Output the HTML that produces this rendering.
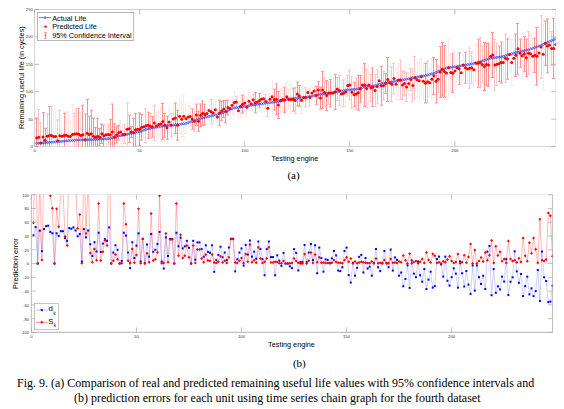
<!DOCTYPE html>
<html><head><meta charset="utf-8"><style>
html,body{margin:0;padding:0;background:#fff;width:564px;height:409px;overflow:hidden}
svg{display:block}
text{font-family:"Liberation Sans",sans-serif}
</style></head><body>
<svg width="564" height="409" viewBox="0 0 564 409">
<defs>
<clipPath id="ct"><rect x="34.6" y="9.5" width="521.1999999999999" height="137.0"/></clipPath>
<clipPath id="cb"><rect x="31.4" y="194.7" width="521.1" height="137.7"/></clipPath>
</defs>

<path d="M34.6 9.5H555.8" stroke="#cfcfcf" stroke-width="1"/><path d="M34.6 9.5V146.5H555.8" stroke="#d4d4d4" stroke-width="1" fill="none"/><path d="M555.8 9.5V146.5" stroke="#ececec" stroke-width="1"/>
<text x="33" y="148.00" font-size="4.3" text-anchor="end" fill="#333">0</text>
<text x="33" y="120.60" font-size="4.3" text-anchor="end" fill="#333">50</text>
<text x="33" y="93.20" font-size="4.3" text-anchor="end" fill="#333">100</text>
<text x="33" y="65.80" font-size="4.3" text-anchor="end" fill="#333">150</text>
<text x="33" y="38.40" font-size="4.3" text-anchor="end" fill="#333">200</text>
<text x="33" y="11.00" font-size="4.3" text-anchor="end" fill="#333">250</text>
<text x="34.60" y="152" font-size="4.3" text-anchor="middle" fill="#333">0</text>
<text x="139.68" y="152" font-size="4.3" text-anchor="middle" fill="#333">50</text>
<text x="244.76" y="152" font-size="4.3" text-anchor="middle" fill="#333">100</text>
<text x="349.84" y="152" font-size="4.3" text-anchor="middle" fill="#333">150</text>
<text x="454.92" y="152" font-size="4.3" text-anchor="middle" fill="#333">200</text>
<text x="295" y="161" font-size="7.25" text-anchor="middle" fill="#000">Testing engine</text>
<text transform="translate(24.3 77.6) rotate(-90)" font-size="7.3" text-anchor="middle" fill="#000">Remaining useful life (in cycles)</text>
<g clip-path="url(#ct)"><path d="M36.50 118.00V157.90M35.00 118.00h3M35.00 157.90h3M43.50 112.58V161.35M42.00 112.58h3M42.00 161.35h3M45.50 128.25V152.25M44.00 128.25h3M44.00 152.25h3M49.50 106.39V164.80M48.00 106.39h3M48.00 164.80h3M64.50 113.24V157.95M63.00 113.24h3M63.00 157.95h3M78.50 108.69V159.76M77.00 108.69h3M77.00 159.76h3M82.50 105.29V164.15M81.00 105.29h3M81.00 164.15h3M85.50 113.95V165.35M84.00 113.95h3M84.00 165.35h3M87.50 99.54V166.72M86.00 99.54h3M86.00 166.72h3M89.50 116.09V152.91M88.00 116.09h3M88.00 152.91h3M91.50 110.22V157.35M90.00 110.22h3M90.00 157.35h3M93.50 118.00V154.28M92.00 118.00h3M92.00 154.28h3M95.50 127.32V147.71M94.00 127.32h3M94.00 147.71h3M97.50 118.28V154.01M96.00 118.28h3M96.00 154.01h3M99.50 128.64V145.84M98.00 128.64h3M98.00 145.84h3M101.50 124.14V143.43M100.00 124.14h3M100.00 143.43h3M103.50 125.13V146.61M102.00 125.13h3M102.00 146.61h3M110.50 119.37V150.17M109.00 119.37h3M109.00 150.17h3M112.50 104.14V160.04M111.00 104.14h3M111.00 160.04h3M114.50 123.89V150.37M113.00 123.89h3M113.00 150.37h3M116.50 126.83V143.05M115.00 126.83h3M115.00 143.05h3M118.50 125.35V140.03M117.00 125.35h3M117.00 140.03h3M129.50 115.15V142.34M128.00 115.15h3M128.00 142.34h3M131.50 126.39V137.57M130.00 126.39h3M130.00 137.57h3M133.50 118.34V147.04M132.00 118.34h3M132.00 147.04h3M135.50 113.24V146.34M134.00 113.24h3M134.00 146.34h3M139.50 112.96V145.73M138.00 112.96h3M138.00 145.73h3M141.50 114.44V140.09M140.00 114.44h3M140.00 140.09h3M148.50 112.25V138.44M147.00 112.25h3M147.00 138.44h3M152.50 116.52V137.13M151.00 116.52h3M151.00 137.13h3M162.50 103.48V139.65M161.00 103.48h3M161.00 139.65h3M164.50 113.35V137.13M163.00 113.35h3M163.00 137.13h3M167.50 116.17V139.13M166.00 116.17h3M166.00 139.13h3M175.50 102.99V133.24M174.00 102.99h3M174.00 133.24h3M177.50 110.26V140.22M176.00 110.26h3M176.00 140.22h3M192.50 108.91V129.29M191.00 108.91h3M191.00 129.29h3M196.50 104.14V125.62M195.00 104.14h3M195.00 125.62h3M198.50 111.08V131.17M197.00 111.08h3M197.00 131.17h3M200.50 103.98V126.77M199.00 103.98h3M199.00 126.77h3M202.50 100.96V125.62M201.00 100.96h3M201.00 125.62h3M204.50 104.25V124.86M203.00 104.25h3M203.00 124.86h3M219.50 100.16V125.77M218.00 100.16h3M218.00 125.77h3M221.50 101.52V120.24M220.00 101.52h3M220.00 120.24h3M223.50 100.30V117.63M222.00 100.30h3M222.00 117.63h3M225.50 100.47V122.72M224.00 100.47h3M224.00 122.72h3M227.50 100.27V114.91M226.00 100.27h3M226.00 114.91h3M242.50 95.14V113.14M241.00 95.14h3M241.00 113.14h3M255.50 92.52V112.80M254.00 92.52h3M254.00 112.80h3M259.50 93.24V107.70M258.00 93.24h3M258.00 107.70h3M274.50 89.15V110.03M273.00 89.15h3M273.00 110.03h3M276.50 83.97V114.77M275.00 83.97h3M275.00 114.77h3M278.50 91.52V118.62M277.00 91.52h3M277.00 118.62h3M284.50 87.15V112.69M283.00 87.15h3M283.00 112.69h3M293.50 88.12V111.06M292.00 88.12h3M292.00 111.06h3M297.50 82.16V105.95M296.00 82.16h3M296.00 105.95h3M299.50 85.58V106.26M298.00 85.58h3M298.00 106.26h3M316.50 86.29V104.78M315.00 86.29h3M315.00 104.78h3M318.50 81.78V98.22M317.00 81.78h3M317.00 98.22h3M320.50 87.02V108.88M319.00 87.02h3M319.00 108.88h3M322.50 71.64V108.36M321.00 71.64h3M321.00 108.36h3M326.50 80.60V110.47M325.00 80.60h3M325.00 110.47h3M330.50 79.39V106.86M329.00 79.39h3M329.00 106.86h3M335.50 74.38V109.35M334.00 74.38h3M334.00 109.35h3M354.50 82.58V106.74M353.00 82.58h3M353.00 106.74h3M358.50 75.61V110.09M357.00 75.61h3M357.00 110.09h3M360.50 75.48V102.76M359.00 75.48h3M359.00 102.76h3M364.50 63.42V106.50M363.00 63.42h3M363.00 106.50h3M372.50 68.03V106.61M371.00 68.03h3M371.00 106.61h3M381.50 66.33V105.24M380.00 66.33h3M380.00 105.24h3M385.50 73.67V93.29M384.00 73.67h3M384.00 93.29h3M387.50 57.45V101.62M386.00 57.45h3M386.00 101.62h3M425.50 63.31V103.00M424.00 63.31h3M424.00 103.00h3M433.50 57.29V94.44M432.00 57.29h3M432.00 94.44h3M436.50 59.50V102.86M435.00 59.50h3M435.00 102.86h3M440.50 46.49V97.34M439.00 46.49h3M439.00 97.34h3M442.50 42.57V96.12M441.00 42.57h3M441.00 96.12h3M444.50 45.50V97.34M443.00 45.50h3M443.00 97.34h3M452.50 53.78V92.58M451.00 53.78h3M451.00 92.58h3M459.50 52.85V84.52M458.00 52.85h3M458.00 84.52h3M465.50 52.18V83.33M464.00 52.18h3M464.00 83.33h3M478.50 39.11V87.30M477.00 39.11h3M477.00 87.30h3M484.50 42.54V90.44M483.00 42.54h3M483.00 90.44h3M486.50 43.84V85.20M485.00 43.84h3M485.00 85.20h3M488.50 43.19V86.62M487.00 43.19h3M487.00 86.62h3M492.50 32.52V77.45M491.00 32.52h3M491.00 77.45h3M499.50 46.12V81.60M498.00 46.12h3M498.00 81.60h3M501.50 42.05V82.93M500.00 42.05h3M500.00 82.93h3M507.50 38.93V79.26M506.00 38.93h3M506.00 79.26h3M515.50 33.97V76.33M514.00 33.97h3M514.00 76.33h3M517.50 23.47V74.22M516.00 23.47h3M516.00 74.22h3M520.50 39.15V67.20M519.00 39.15h3M519.00 67.20h3M524.50 36.34V71.21M523.00 36.34h3M523.00 71.21h3M526.50 39.15V76.52M525.00 39.15h3M525.00 76.52h3M534.50 38.22V72.41M533.00 38.22h3M533.00 72.41h3M536.50 27.49V85.11M535.00 27.49h3M535.00 85.11h3M545.50 20.95V65.34M544.00 20.95h3M544.00 65.34h3M547.50 18.87V72.90M546.00 18.87h3M546.00 72.90h3M553.50 18.27V78.55M552.00 18.27h3M552.00 78.55h3" stroke="#ff9090" stroke-width="1" fill="none"/>
<path d="M38.50 109.51V164.97M37.00 109.51h3M37.00 164.97h3M40.50 122.75V163.13M39.00 122.75h3M39.00 163.13h3M47.50 114.17V158.12M46.00 114.17h3M46.00 158.12h3M51.50 106.39V164.80M50.00 106.39h3M50.00 164.80h3M57.50 119.93V161.34M56.00 119.93h3M56.00 161.34h3M59.50 110.22V161.52M58.00 110.22h3M58.00 161.52h3M74.50 113.24V154.77M73.00 113.24h3M73.00 154.77h3M76.50 108.41V159.16M75.00 108.41h3M75.00 159.16h3M108.50 124.85V144.14M107.00 124.85h3M107.00 144.14h3M124.50 124.76V143.58M123.00 124.76h3M123.00 143.58h3M127.50 102.93V155.76M126.00 102.93h3M126.00 155.76h3M145.50 108.58V142.99M144.00 108.58h3M144.00 142.99h3M150.50 113.67V138.33M149.00 113.67h3M149.00 138.33h3M154.50 105.40V140.36M153.00 105.40h3M153.00 140.36h3M171.50 113.43V137.05M170.00 113.43h3M170.00 137.05h3M194.50 111.76V131.48M193.00 111.76h3M193.00 131.48h3M211.50 99.37V123.92M210.00 99.37h3M210.00 123.92h3M236.50 96.19V107.92M235.00 96.19h3M235.00 107.92h3M253.50 94.11V105.18M252.00 94.11h3M252.00 105.18h3M265.50 94.67V108.13M264.00 94.67h3M264.00 108.13h3M267.50 100.16V116.56M266.00 100.16h3M266.00 116.56h3M295.50 87.41V113.53M294.00 87.41h3M294.00 113.53h3M305.50 87.69V107.11M304.00 87.69h3M304.00 107.11h3M309.50 89.04V105.76M308.00 89.04h3M308.00 105.76h3M324.50 77.95V106.87M323.00 77.95h3M323.00 106.87h3M328.50 81.78V104.47M327.00 81.78h3M327.00 104.47h3M337.50 77.68V100.57M336.00 77.68h3M336.00 100.57h3M339.50 75.26V105.84M338.00 75.26h3M338.00 105.84h3M343.50 79.97V106.72M342.00 79.97h3M342.00 106.72h3M347.50 74.99V96.03M346.00 74.99h3M346.00 96.03h3M349.50 69.84V100.08M348.00 69.84h3M348.00 100.08h3M351.50 76.30V108.19M350.00 76.30h3M350.00 108.19h3M356.50 78.16V109.62M355.00 78.16h3M355.00 109.62h3M366.50 69.63V107.52M365.00 69.63h3M365.00 107.52h3M370.50 74.44V101.29M369.00 74.44h3M369.00 101.29h3M375.50 74.42V106.46M374.00 74.42h3M374.00 106.46h3M377.50 69.60V103.17M376.00 69.60h3M376.00 103.17h3M383.50 71.49V100.07M382.00 71.49h3M382.00 100.07h3M391.50 66.71V101.56M390.00 66.71h3M390.00 101.56h3M393.50 63.37V93.84M392.00 63.37h3M392.00 93.84h3M400.50 60.24V99.59M399.00 60.24h3M399.00 99.59h3M402.50 70.84V99.30M401.00 70.84h3M401.00 99.30h3M404.50 71.31V95.86M403.00 71.31h3M403.00 95.86h3M406.50 72.57V101.30M405.00 72.57h3M405.00 101.30h3M410.50 68.52V90.55M409.00 68.52h3M409.00 90.55h3M412.50 69.08V101.82M411.00 69.08h3M411.00 101.82h3M414.50 56.52V98.93M413.00 56.52h3M413.00 98.93h3M427.50 60.79V102.88M426.00 60.79h3M426.00 102.88h3M438.50 66.05V92.36M437.00 66.05h3M437.00 92.36h3M469.50 47.97V88.30M468.00 47.97h3M468.00 88.30h3M471.50 51.78V83.72M470.00 51.78h3M470.00 83.72h3M480.50 37.50V87.59M479.00 37.50h3M479.00 87.59h3M482.50 45.86V83.18M481.00 45.86h3M481.00 83.18h3M494.50 39.57V90.24M493.00 39.57h3M493.00 90.24h3M496.50 43.04V85.56M495.00 43.04h3M495.00 85.56h3M505.50 34.21V82.44M504.00 34.21h3M504.00 82.44h3M528.50 31.58V74.77M527.00 31.58h3M527.00 74.77h3M541.50 15.80V78.28M540.00 15.80h3M540.00 78.28h3M551.50 31.58V65.23M550.00 31.58h3M550.00 65.23h3" stroke="#ffc4c4" stroke-width="1" fill="none"/>
<path d="M53.50 109.51V163.54M52.00 109.51h3M52.00 163.54h3M55.50 111.21V161.84M54.00 111.21h3M54.00 161.84h3M61.50 115.26V157.02M60.00 115.26h3M60.00 157.02h3M66.50 112.25V158.06M65.00 112.25h3M65.00 158.06h3M68.50 111.21V161.08M67.00 111.21h3M67.00 161.08h3M70.50 121.40V151.65M69.00 121.40h3M69.00 151.65h3M72.50 104.36V164.64M71.00 104.36h3M71.00 164.64h3M80.50 112.52V158.67M79.00 112.52h3M79.00 158.67h3M106.50 123.61V145.94M105.00 123.61h3M105.00 145.94h3M120.50 120.25V143.71M119.00 120.25h3M119.00 143.71h3M122.50 123.52V145.70M121.00 123.52h3M121.00 145.70h3M137.50 118.06V140.64M136.00 118.06h3M136.00 140.64h3M143.50 116.23V137.31M142.00 116.23h3M142.00 137.31h3M156.50 112.58V139.43M155.00 112.58h3M155.00 139.43h3M158.50 111.04V137.79M157.00 111.04h3M157.00 137.79h3M160.50 107.04V141.13M159.00 107.04h3M159.00 141.13h3M169.50 111.43V132.69M168.00 111.43h3M168.00 132.69h3M173.50 102.22V135.65M172.00 102.22h3M172.00 135.65h3M179.50 99.04V133.35M178.00 99.04h3M178.00 133.35h3M181.50 101.64V137.10M180.00 101.64h3M180.00 137.10h3M183.50 95.10V137.29M182.00 95.10h3M182.00 137.29h3M185.50 103.98V133.57M184.00 103.98h3M184.00 133.57h3M188.50 105.64V128.17M187.00 105.64h3M187.00 128.17h3M190.50 106.55V126.39M189.00 106.55h3M189.00 126.39h3M206.50 108.14V119.10M205.00 108.14h3M205.00 119.10h3M209.50 101.15V119.95M208.00 101.15h3M208.00 119.95h3M213.50 101.80V124.13M212.00 101.80h3M212.00 124.13h3M215.50 99.37V120.20M214.00 99.37h3M214.00 120.20h3M217.50 108.22V125.60M216.00 108.22h3M216.00 125.60h3M230.50 98.06V118.77M229.00 98.06h3M229.00 118.77h3M232.50 96.39V113.97M231.00 96.39h3M231.00 113.97h3M234.50 91.44V113.55M233.00 91.44h3M233.00 113.55h3M238.50 103.04V118.50M237.00 103.04h3M237.00 118.50h3M240.50 94.11V118.55M239.00 94.11h3M239.00 118.55h3M244.50 94.11V111.65M243.00 94.11h3M243.00 111.65h3M246.50 97.85V116.68M245.00 97.85h3M245.00 116.68h3M248.50 92.52V109.95M247.00 92.52h3M247.00 109.95h3M251.50 96.49V110.81M250.00 96.49h3M250.00 110.81h3M257.50 96.19V107.92M256.00 96.19h3M256.00 107.92h3M261.50 92.52V105.24M260.00 92.52h3M260.00 105.24h3M263.50 90.44V107.21M262.00 90.44h3M262.00 107.21h3M269.50 93.12V105.29M268.00 93.12h3M268.00 105.29h3M272.50 80.30V113.40M271.00 80.30h3M271.00 113.40h3M280.50 88.96V111.98M279.00 88.96h3M279.00 111.98h3M282.50 87.16V112.02M281.00 87.16h3M281.00 112.02h3M286.50 82.16V111.54M285.00 82.16h3M285.00 111.54h3M288.50 89.51V109.67M287.00 89.51h3M287.00 109.67h3M290.50 84.90V114.28M289.00 84.90h3M289.00 114.28h3M301.50 87.04V113.24M300.00 87.04h3M300.00 113.24h3M303.50 88.95V105.85M302.00 88.95h3M302.00 105.85h3M307.50 88.74V96.08M306.00 88.74h3M306.00 96.08h3M312.50 87.88V98.37M311.00 87.88h3M311.00 98.37h3M314.50 84.52V97.34M313.00 84.52h3M313.00 97.34h3M333.50 75.61V110.64M332.00 75.61h3M332.00 110.64h3M341.50 80.90V107.32M340.00 80.90h3M340.00 107.32h3M345.50 78.16V105.67M344.00 78.16h3M344.00 105.67h3M362.50 67.09V102.82M361.00 67.09h3M361.00 102.82h3M368.50 65.23V104.68M367.00 65.23h3M367.00 104.68h3M379.50 69.45V92.25M378.00 69.45h3M378.00 92.25h3M389.50 65.24V100.40M388.00 65.24h3M388.00 100.40h3M396.50 68.90V99.37M395.00 68.90h3M395.00 99.37h3M398.50 63.67V96.17M397.00 63.67h3M397.00 96.17h3M408.50 72.57V94.60M407.00 72.57h3M407.00 94.60h3M417.50 62.77V96.85M416.00 62.77h3M416.00 96.85h3M419.50 59.80V101.79M418.00 59.80h3M418.00 101.79h3M421.50 57.99V95.71M420.00 57.99h3M420.00 95.71h3M423.50 62.16V100.19M422.00 62.16h3M422.00 100.19h3M429.50 68.76V96.66M428.00 68.76h3M428.00 96.66h3M431.50 58.49V99.93M430.00 58.49h3M430.00 99.93h3M446.50 46.79V99.02M445.00 46.79h3M445.00 99.02h3M448.50 38.65V96.19M447.00 38.65h3M447.00 96.19h3M450.50 54.08V90.96M449.00 54.08h3M449.00 90.96h3M454.50 51.53V90.23M453.00 51.53h3M453.00 90.23h3M457.50 54.27V81.23M456.00 54.27h3M456.00 81.23h3M461.50 60.27V84.99M460.00 60.27h3M460.00 84.99h3M463.50 49.34V80.47M462.00 49.34h3M462.00 80.47h3M467.50 54.60V83.65M466.00 54.60h3M466.00 83.65h3M473.50 53.16V86.29M472.00 53.16h3M472.00 86.29h3M475.50 44.52V82.11M474.00 44.52h3M474.00 82.11h3M490.50 31.69V80.79M489.00 31.69h3M489.00 80.79h3M503.50 42.74V82.24M502.00 42.74h3M502.00 82.24h3M509.50 37.23V71.53M508.00 37.23h3M508.00 71.53h3M511.50 39.58V85.41M510.00 39.58h3M510.00 85.41h3M513.50 39.15V77.51M512.00 39.15h3M512.00 77.51h3M522.50 33.24V78.27M521.00 33.24h3M521.00 78.27h3M530.50 34.14V73.31M529.00 34.14h3M529.00 73.31h3M532.50 37.24V75.35M531.00 37.24h3M531.00 75.35h3M538.50 26.71V79.21M537.00 26.71h3M537.00 79.21h3M543.50 18.87V89.78M542.00 18.87h3M542.00 89.78h3M549.50 22.43V67.81M548.00 22.43h3M548.00 67.81h3M555.50 23.45V65.59M554.00 23.45h3M554.00 65.59h3" stroke="#ffe8e8" stroke-width="1" fill="none"/>
<polyline points="36.70,143.38 38.80,143.21 40.90,143.04 43.01,142.86 45.11,142.69 47.21,142.52 49.31,142.35 51.41,142.18 53.51,142.01 55.62,141.84 57.72,141.67 59.82,141.49 61.92,141.31 64.02,141.14 66.12,140.96 68.23,140.78 70.33,140.61 72.43,140.43 74.53,140.25 76.63,140.17 78.73,140.09 80.84,140.01 82.94,139.93 85.04,139.85 87.14,139.77 89.24,139.69 91.34,139.62 93.45,139.54 95.55,139.46 97.65,139.38 99.75,139.24 101.85,139.10 103.95,138.97 106.05,138.83 108.16,138.69 110.26,138.55 112.36,137.94 114.46,137.32 116.56,136.70 118.66,136.09 120.77,135.70 122.87,135.32 124.97,134.94 127.07,134.40 129.17,133.87 131.27,133.33 133.38,132.80 135.48,132.43 137.58,132.07 139.68,131.70 141.78,130.96 143.88,130.22 145.99,129.48 148.09,128.74 150.19,128.37 152.29,128.00 154.39,127.64 156.49,127.27 158.60,126.90 160.70,126.53 162.80,126.16 164.90,125.79 167.00,125.58 169.10,125.38 171.20,125.17 173.31,124.97 175.41,124.77 177.51,124.56 179.61,124.36 181.71,124.07 183.81,123.78 185.92,123.48 188.02,122.76 190.12,122.04 192.22,121.32 194.32,120.60 196.42,119.88 198.53,119.16 200.63,118.44 202.73,117.94 204.83,117.44 206.93,116.94 209.03,116.44 211.14,115.94 213.24,115.44 215.34,114.94 217.44,114.44 219.54,113.74 221.64,113.04 223.75,112.35 225.85,111.65 227.95,110.69 230.05,109.73 232.15,108.77 234.25,107.81 236.35,107.70 238.46,107.59 240.56,107.15 242.66,106.72 244.76,106.28 246.86,105.97 248.96,105.66 251.07,105.36 253.17,105.05 255.27,104.74 257.37,104.41 259.47,104.08 261.57,103.76 263.68,103.48 265.78,103.21 267.88,102.93 269.98,102.66 272.08,102.39 274.18,102.11 276.29,101.84 278.39,101.56 280.49,101.29 282.59,100.67 284.69,100.06 286.79,99.44 288.90,98.82 291.00,98.66 293.10,98.50 295.20,98.33 297.30,98.17 299.40,98.00 301.50,97.73 303.61,97.45 305.71,97.18 307.81,96.91 309.91,96.47 312.01,96.03 314.11,95.59 316.22,95.15 318.32,94.71 320.42,94.44 322.52,94.17 324.62,93.89 326.72,93.62 328.83,93.34 330.93,93.00 333.03,92.66 335.13,92.32 337.23,91.97 339.33,91.49 341.44,91.02 343.54,90.54 345.64,90.06 347.74,89.89 349.84,89.73 351.94,89.56 354.05,89.40 356.15,89.23 358.25,88.63 360.35,88.03 362.45,87.43 364.55,86.82 366.65,86.22 368.76,86.08 370.86,85.95 372.96,85.81 375.06,85.67 377.16,84.99 379.26,84.30 381.37,83.62 383.47,82.93 385.57,82.66 387.67,82.38 389.77,82.11 391.87,81.84 393.98,81.56 396.08,81.29 398.18,80.88 400.28,80.47 402.38,80.06 404.48,79.64 406.59,79.16 408.69,78.69 410.79,78.21 412.89,77.73 414.99,77.37 417.09,77.01 419.20,76.66 421.30,76.30 423.40,75.94 425.50,75.59 427.60,75.01 429.70,74.44 431.80,73.86 433.91,73.29 436.01,72.43 438.11,71.57 440.21,70.71 442.31,69.85 444.41,68.99 446.52,68.14 448.62,67.80 450.72,67.46 452.82,67.12 454.92,66.78 457.02,66.45 459.13,66.11 461.23,65.74 463.33,65.38 465.43,65.01 467.53,64.65 469.63,64.28 471.74,63.92 473.84,63.37 475.94,62.82 478.04,62.27 480.14,61.72 482.24,61.03 484.35,60.34 486.45,59.65 488.55,58.96 490.65,58.27 492.75,57.97 494.85,57.67 496.95,57.37 499.06,57.07 501.16,56.77 503.26,56.46 505.36,55.77 507.46,55.08 509.56,54.38 511.67,53.79 513.77,53.20 515.87,52.61 517.97,52.02 520.07,51.59 522.17,51.15 524.28,50.71 526.38,50.27 528.48,49.83 530.58,49.09 532.68,48.35 534.78,47.61 536.89,46.87 538.99,46.13 541.09,45.39 543.19,44.44 545.29,43.49 547.39,42.53 549.50,41.58 551.60,40.63 553.70,39.72 555.80,38.82" fill="none" stroke="#6070ff" stroke-width="0.4"/>
<g fill="none" stroke="#0828ff" stroke-width="0.5"><circle cx="36.70" cy="143.38" r="1.05"/><circle cx="38.80" cy="143.21" r="1.05"/><circle cx="40.90" cy="143.04" r="1.05"/><circle cx="43.01" cy="142.86" r="1.05"/><circle cx="45.11" cy="142.69" r="1.05"/><circle cx="47.21" cy="142.52" r="1.05"/><circle cx="49.31" cy="142.35" r="1.05"/><circle cx="51.41" cy="142.18" r="1.05"/><circle cx="53.51" cy="142.01" r="1.05"/><circle cx="55.62" cy="141.84" r="1.05"/><circle cx="57.72" cy="141.67" r="1.05"/><circle cx="59.82" cy="141.49" r="1.05"/><circle cx="61.92" cy="141.31" r="1.05"/><circle cx="64.02" cy="141.14" r="1.05"/><circle cx="66.12" cy="140.96" r="1.05"/><circle cx="68.23" cy="140.78" r="1.05"/><circle cx="70.33" cy="140.61" r="1.05"/><circle cx="72.43" cy="140.43" r="1.05"/><circle cx="74.53" cy="140.25" r="1.05"/><circle cx="76.63" cy="140.17" r="1.05"/><circle cx="78.73" cy="140.09" r="1.05"/><circle cx="80.84" cy="140.01" r="1.05"/><circle cx="82.94" cy="139.93" r="1.05"/><circle cx="85.04" cy="139.85" r="1.05"/><circle cx="87.14" cy="139.77" r="1.05"/><circle cx="89.24" cy="139.69" r="1.05"/><circle cx="91.34" cy="139.62" r="1.05"/><circle cx="93.45" cy="139.54" r="1.05"/><circle cx="95.55" cy="139.46" r="1.05"/><circle cx="97.65" cy="139.38" r="1.05"/><circle cx="99.75" cy="139.24" r="1.05"/><circle cx="101.85" cy="139.10" r="1.05"/><circle cx="103.95" cy="138.97" r="1.05"/><circle cx="106.05" cy="138.83" r="1.05"/><circle cx="108.16" cy="138.69" r="1.05"/><circle cx="110.26" cy="138.55" r="1.05"/><circle cx="112.36" cy="137.94" r="1.05"/><circle cx="114.46" cy="137.32" r="1.05"/><circle cx="116.56" cy="136.70" r="1.05"/><circle cx="118.66" cy="136.09" r="1.05"/><circle cx="120.77" cy="135.70" r="1.05"/><circle cx="122.87" cy="135.32" r="1.05"/><circle cx="124.97" cy="134.94" r="1.05"/><circle cx="127.07" cy="134.40" r="1.05"/><circle cx="129.17" cy="133.87" r="1.05"/><circle cx="131.27" cy="133.33" r="1.05"/><circle cx="133.38" cy="132.80" r="1.05"/><circle cx="135.48" cy="132.43" r="1.05"/><circle cx="137.58" cy="132.07" r="1.05"/><circle cx="139.68" cy="131.70" r="1.05"/><circle cx="141.78" cy="130.96" r="1.05"/><circle cx="143.88" cy="130.22" r="1.05"/><circle cx="145.99" cy="129.48" r="1.05"/><circle cx="148.09" cy="128.74" r="1.05"/><circle cx="150.19" cy="128.37" r="1.05"/><circle cx="152.29" cy="128.00" r="1.05"/><circle cx="154.39" cy="127.64" r="1.05"/><circle cx="156.49" cy="127.27" r="1.05"/><circle cx="158.60" cy="126.90" r="1.05"/><circle cx="160.70" cy="126.53" r="1.05"/><circle cx="162.80" cy="126.16" r="1.05"/><circle cx="164.90" cy="125.79" r="1.05"/><circle cx="167.00" cy="125.58" r="1.05"/><circle cx="169.10" cy="125.38" r="1.05"/><circle cx="171.20" cy="125.17" r="1.05"/><circle cx="173.31" cy="124.97" r="1.05"/><circle cx="175.41" cy="124.77" r="1.05"/><circle cx="177.51" cy="124.56" r="1.05"/><circle cx="179.61" cy="124.36" r="1.05"/><circle cx="181.71" cy="124.07" r="1.05"/><circle cx="183.81" cy="123.78" r="1.05"/><circle cx="185.92" cy="123.48" r="1.05"/><circle cx="188.02" cy="122.76" r="1.05"/><circle cx="190.12" cy="122.04" r="1.05"/><circle cx="192.22" cy="121.32" r="1.05"/><circle cx="194.32" cy="120.60" r="1.05"/><circle cx="196.42" cy="119.88" r="1.05"/><circle cx="198.53" cy="119.16" r="1.05"/><circle cx="200.63" cy="118.44" r="1.05"/><circle cx="202.73" cy="117.94" r="1.05"/><circle cx="204.83" cy="117.44" r="1.05"/><circle cx="206.93" cy="116.94" r="1.05"/><circle cx="209.03" cy="116.44" r="1.05"/><circle cx="211.14" cy="115.94" r="1.05"/><circle cx="213.24" cy="115.44" r="1.05"/><circle cx="215.34" cy="114.94" r="1.05"/><circle cx="217.44" cy="114.44" r="1.05"/><circle cx="219.54" cy="113.74" r="1.05"/><circle cx="221.64" cy="113.04" r="1.05"/><circle cx="223.75" cy="112.35" r="1.05"/><circle cx="225.85" cy="111.65" r="1.05"/><circle cx="227.95" cy="110.69" r="1.05"/><circle cx="230.05" cy="109.73" r="1.05"/><circle cx="232.15" cy="108.77" r="1.05"/><circle cx="234.25" cy="107.81" r="1.05"/><circle cx="236.35" cy="107.70" r="1.05"/><circle cx="238.46" cy="107.59" r="1.05"/><circle cx="240.56" cy="107.15" r="1.05"/><circle cx="242.66" cy="106.72" r="1.05"/><circle cx="244.76" cy="106.28" r="1.05"/><circle cx="246.86" cy="105.97" r="1.05"/><circle cx="248.96" cy="105.66" r="1.05"/><circle cx="251.07" cy="105.36" r="1.05"/><circle cx="253.17" cy="105.05" r="1.05"/><circle cx="255.27" cy="104.74" r="1.05"/><circle cx="257.37" cy="104.41" r="1.05"/><circle cx="259.47" cy="104.08" r="1.05"/><circle cx="261.57" cy="103.76" r="1.05"/><circle cx="263.68" cy="103.48" r="1.05"/><circle cx="265.78" cy="103.21" r="1.05"/><circle cx="267.88" cy="102.93" r="1.05"/><circle cx="269.98" cy="102.66" r="1.05"/><circle cx="272.08" cy="102.39" r="1.05"/><circle cx="274.18" cy="102.11" r="1.05"/><circle cx="276.29" cy="101.84" r="1.05"/><circle cx="278.39" cy="101.56" r="1.05"/><circle cx="280.49" cy="101.29" r="1.05"/><circle cx="282.59" cy="100.67" r="1.05"/><circle cx="284.69" cy="100.06" r="1.05"/><circle cx="286.79" cy="99.44" r="1.05"/><circle cx="288.90" cy="98.82" r="1.05"/><circle cx="291.00" cy="98.66" r="1.05"/><circle cx="293.10" cy="98.50" r="1.05"/><circle cx="295.20" cy="98.33" r="1.05"/><circle cx="297.30" cy="98.17" r="1.05"/><circle cx="299.40" cy="98.00" r="1.05"/><circle cx="301.50" cy="97.73" r="1.05"/><circle cx="303.61" cy="97.45" r="1.05"/><circle cx="305.71" cy="97.18" r="1.05"/><circle cx="307.81" cy="96.91" r="1.05"/><circle cx="309.91" cy="96.47" r="1.05"/><circle cx="312.01" cy="96.03" r="1.05"/><circle cx="314.11" cy="95.59" r="1.05"/><circle cx="316.22" cy="95.15" r="1.05"/><circle cx="318.32" cy="94.71" r="1.05"/><circle cx="320.42" cy="94.44" r="1.05"/><circle cx="322.52" cy="94.17" r="1.05"/><circle cx="324.62" cy="93.89" r="1.05"/><circle cx="326.72" cy="93.62" r="1.05"/><circle cx="328.83" cy="93.34" r="1.05"/><circle cx="330.93" cy="93.00" r="1.05"/><circle cx="333.03" cy="92.66" r="1.05"/><circle cx="335.13" cy="92.32" r="1.05"/><circle cx="337.23" cy="91.97" r="1.05"/><circle cx="339.33" cy="91.49" r="1.05"/><circle cx="341.44" cy="91.02" r="1.05"/><circle cx="343.54" cy="90.54" r="1.05"/><circle cx="345.64" cy="90.06" r="1.05"/><circle cx="347.74" cy="89.89" r="1.05"/><circle cx="349.84" cy="89.73" r="1.05"/><circle cx="351.94" cy="89.56" r="1.05"/><circle cx="354.05" cy="89.40" r="1.05"/><circle cx="356.15" cy="89.23" r="1.05"/><circle cx="358.25" cy="88.63" r="1.05"/><circle cx="360.35" cy="88.03" r="1.05"/><circle cx="362.45" cy="87.43" r="1.05"/><circle cx="364.55" cy="86.82" r="1.05"/><circle cx="366.65" cy="86.22" r="1.05"/><circle cx="368.76" cy="86.08" r="1.05"/><circle cx="370.86" cy="85.95" r="1.05"/><circle cx="372.96" cy="85.81" r="1.05"/><circle cx="375.06" cy="85.67" r="1.05"/><circle cx="377.16" cy="84.99" r="1.05"/><circle cx="379.26" cy="84.30" r="1.05"/><circle cx="381.37" cy="83.62" r="1.05"/><circle cx="383.47" cy="82.93" r="1.05"/><circle cx="385.57" cy="82.66" r="1.05"/><circle cx="387.67" cy="82.38" r="1.05"/><circle cx="389.77" cy="82.11" r="1.05"/><circle cx="391.87" cy="81.84" r="1.05"/><circle cx="393.98" cy="81.56" r="1.05"/><circle cx="396.08" cy="81.29" r="1.05"/><circle cx="398.18" cy="80.88" r="1.05"/><circle cx="400.28" cy="80.47" r="1.05"/><circle cx="402.38" cy="80.06" r="1.05"/><circle cx="404.48" cy="79.64" r="1.05"/><circle cx="406.59" cy="79.16" r="1.05"/><circle cx="408.69" cy="78.69" r="1.05"/><circle cx="410.79" cy="78.21" r="1.05"/><circle cx="412.89" cy="77.73" r="1.05"/><circle cx="414.99" cy="77.37" r="1.05"/><circle cx="417.09" cy="77.01" r="1.05"/><circle cx="419.20" cy="76.66" r="1.05"/><circle cx="421.30" cy="76.30" r="1.05"/><circle cx="423.40" cy="75.94" r="1.05"/><circle cx="425.50" cy="75.59" r="1.05"/><circle cx="427.60" cy="75.01" r="1.05"/><circle cx="429.70" cy="74.44" r="1.05"/><circle cx="431.80" cy="73.86" r="1.05"/><circle cx="433.91" cy="73.29" r="1.05"/><circle cx="436.01" cy="72.43" r="1.05"/><circle cx="438.11" cy="71.57" r="1.05"/><circle cx="440.21" cy="70.71" r="1.05"/><circle cx="442.31" cy="69.85" r="1.05"/><circle cx="444.41" cy="68.99" r="1.05"/><circle cx="446.52" cy="68.14" r="1.05"/><circle cx="448.62" cy="67.80" r="1.05"/><circle cx="450.72" cy="67.46" r="1.05"/><circle cx="452.82" cy="67.12" r="1.05"/><circle cx="454.92" cy="66.78" r="1.05"/><circle cx="457.02" cy="66.45" r="1.05"/><circle cx="459.13" cy="66.11" r="1.05"/><circle cx="461.23" cy="65.74" r="1.05"/><circle cx="463.33" cy="65.38" r="1.05"/><circle cx="465.43" cy="65.01" r="1.05"/><circle cx="467.53" cy="64.65" r="1.05"/><circle cx="469.63" cy="64.28" r="1.05"/><circle cx="471.74" cy="63.92" r="1.05"/><circle cx="473.84" cy="63.37" r="1.05"/><circle cx="475.94" cy="62.82" r="1.05"/><circle cx="478.04" cy="62.27" r="1.05"/><circle cx="480.14" cy="61.72" r="1.05"/><circle cx="482.24" cy="61.03" r="1.05"/><circle cx="484.35" cy="60.34" r="1.05"/><circle cx="486.45" cy="59.65" r="1.05"/><circle cx="488.55" cy="58.96" r="1.05"/><circle cx="490.65" cy="58.27" r="1.05"/><circle cx="492.75" cy="57.97" r="1.05"/><circle cx="494.85" cy="57.67" r="1.05"/><circle cx="496.95" cy="57.37" r="1.05"/><circle cx="499.06" cy="57.07" r="1.05"/><circle cx="501.16" cy="56.77" r="1.05"/><circle cx="503.26" cy="56.46" r="1.05"/><circle cx="505.36" cy="55.77" r="1.05"/><circle cx="507.46" cy="55.08" r="1.05"/><circle cx="509.56" cy="54.38" r="1.05"/><circle cx="511.67" cy="53.79" r="1.05"/><circle cx="513.77" cy="53.20" r="1.05"/><circle cx="515.87" cy="52.61" r="1.05"/><circle cx="517.97" cy="52.02" r="1.05"/><circle cx="520.07" cy="51.59" r="1.05"/><circle cx="522.17" cy="51.15" r="1.05"/><circle cx="524.28" cy="50.71" r="1.05"/><circle cx="526.38" cy="50.27" r="1.05"/><circle cx="528.48" cy="49.83" r="1.05"/><circle cx="530.58" cy="49.09" r="1.05"/><circle cx="532.68" cy="48.35" r="1.05"/><circle cx="534.78" cy="47.61" r="1.05"/><circle cx="536.89" cy="46.87" r="1.05"/><circle cx="538.99" cy="46.13" r="1.05"/><circle cx="541.09" cy="45.39" r="1.05"/><circle cx="543.19" cy="44.44" r="1.05"/><circle cx="545.29" cy="43.49" r="1.05"/><circle cx="547.39" cy="42.53" r="1.05"/><circle cx="549.50" cy="41.58" r="1.05"/><circle cx="551.60" cy="40.63" r="1.05"/><circle cx="553.70" cy="39.72" r="1.05"/><circle cx="555.80" cy="38.82" r="1.05"/></g>
<g fill="#f00"><circle cx="36.70" cy="137.95" r="1.5"/><circle cx="38.80" cy="137.24" r="1.5"/><circle cx="40.90" cy="142.94" r="1.5"/><circle cx="43.01" cy="136.96" r="1.5"/><circle cx="45.11" cy="140.25" r="1.5"/><circle cx="47.21" cy="136.14" r="1.5"/><circle cx="49.31" cy="135.59" r="1.5"/><circle cx="51.41" cy="135.59" r="1.5"/><circle cx="53.51" cy="136.53" r="1.5"/><circle cx="55.62" cy="136.53" r="1.5"/><circle cx="57.72" cy="140.64" r="1.5"/><circle cx="59.82" cy="135.87" r="1.5"/><circle cx="61.92" cy="136.14" r="1.5"/><circle cx="64.02" cy="135.59" r="1.5"/><circle cx="66.12" cy="135.16" r="1.5"/><circle cx="68.23" cy="136.14" r="1.5"/><circle cx="70.33" cy="136.53" r="1.5"/><circle cx="72.43" cy="134.50" r="1.5"/><circle cx="74.53" cy="134.01" r="1.5"/><circle cx="76.63" cy="133.79" r="1.5"/><circle cx="78.73" cy="134.22" r="1.5"/><circle cx="80.84" cy="135.59" r="1.5"/><circle cx="82.94" cy="134.72" r="1.5"/><circle cx="85.04" cy="139.65" r="1.5"/><circle cx="87.14" cy="133.13" r="1.5"/><circle cx="89.24" cy="134.50" r="1.5"/><circle cx="91.34" cy="133.79" r="1.5"/><circle cx="93.45" cy="136.14" r="1.5"/><circle cx="95.55" cy="137.51" r="1.5"/><circle cx="97.65" cy="136.14" r="1.5"/><circle cx="99.75" cy="137.24" r="1.5"/><circle cx="101.85" cy="133.79" r="1.5"/><circle cx="103.95" cy="135.87" r="1.5"/><circle cx="106.05" cy="134.77" r="1.5"/><circle cx="108.16" cy="134.50" r="1.5"/><circle cx="110.26" cy="134.77" r="1.5"/><circle cx="112.36" cy="132.09" r="1.5"/><circle cx="114.46" cy="137.13" r="1.5"/><circle cx="116.56" cy="134.94" r="1.5"/><circle cx="118.66" cy="132.69" r="1.5"/><circle cx="120.77" cy="131.98" r="1.5"/><circle cx="122.87" cy="134.61" r="1.5"/><circle cx="124.97" cy="134.17" r="1.5"/><circle cx="127.07" cy="129.35" r="1.5"/><circle cx="129.17" cy="128.74" r="1.5"/><circle cx="131.27" cy="131.98" r="1.5"/><circle cx="133.38" cy="132.69" r="1.5"/><circle cx="135.48" cy="129.79" r="1.5"/><circle cx="137.58" cy="129.35" r="1.5"/><circle cx="139.68" cy="129.35" r="1.5"/><circle cx="141.78" cy="127.27" r="1.5"/><circle cx="143.88" cy="126.77" r="1.5"/><circle cx="145.99" cy="125.79" r="1.5"/><circle cx="148.09" cy="125.35" r="1.5"/><circle cx="150.19" cy="126.00" r="1.5"/><circle cx="152.29" cy="126.83" r="1.5"/><circle cx="154.39" cy="122.88" r="1.5"/><circle cx="156.49" cy="126.00" r="1.5"/><circle cx="158.60" cy="124.42" r="1.5"/><circle cx="160.70" cy="124.09" r="1.5"/><circle cx="162.80" cy="121.57" r="1.5"/><circle cx="164.90" cy="125.24" r="1.5"/><circle cx="167.00" cy="127.65" r="1.5"/><circle cx="169.10" cy="122.06" r="1.5"/><circle cx="171.20" cy="125.24" r="1.5"/><circle cx="173.31" cy="118.94" r="1.5"/><circle cx="175.41" cy="118.11" r="1.5"/><circle cx="177.51" cy="125.24" r="1.5"/><circle cx="179.61" cy="116.20" r="1.5"/><circle cx="181.71" cy="119.37" r="1.5"/><circle cx="183.81" cy="116.20" r="1.5"/><circle cx="185.92" cy="118.77" r="1.5"/><circle cx="188.02" cy="116.91" r="1.5"/><circle cx="190.12" cy="116.47" r="1.5"/><circle cx="192.22" cy="119.10" r="1.5"/><circle cx="194.32" cy="121.62" r="1.5"/><circle cx="196.42" cy="114.88" r="1.5"/><circle cx="198.53" cy="121.13" r="1.5"/><circle cx="200.63" cy="115.37" r="1.5"/><circle cx="202.73" cy="113.29" r="1.5"/><circle cx="204.83" cy="114.55" r="1.5"/><circle cx="206.93" cy="113.62" r="1.5"/><circle cx="209.03" cy="110.55" r="1.5"/><circle cx="211.14" cy="111.65" r="1.5"/><circle cx="213.24" cy="112.96" r="1.5"/><circle cx="215.34" cy="109.78" r="1.5"/><circle cx="217.44" cy="116.91" r="1.5"/><circle cx="219.54" cy="112.96" r="1.5"/><circle cx="221.64" cy="110.88" r="1.5"/><circle cx="223.75" cy="108.96" r="1.5"/><circle cx="225.85" cy="111.59" r="1.5"/><circle cx="227.95" cy="107.59" r="1.5"/><circle cx="230.05" cy="108.41" r="1.5"/><circle cx="232.15" cy="105.18" r="1.5"/><circle cx="234.25" cy="102.50" r="1.5"/><circle cx="236.35" cy="102.06" r="1.5"/><circle cx="238.46" cy="110.77" r="1.5"/><circle cx="240.56" cy="106.33" r="1.5"/><circle cx="242.66" cy="104.14" r="1.5"/><circle cx="244.76" cy="102.88" r="1.5"/><circle cx="246.86" cy="107.26" r="1.5"/><circle cx="248.96" cy="101.24" r="1.5"/><circle cx="251.07" cy="103.65" r="1.5"/><circle cx="253.17" cy="99.65" r="1.5"/><circle cx="255.27" cy="102.66" r="1.5"/><circle cx="257.37" cy="102.06" r="1.5"/><circle cx="259.47" cy="100.47" r="1.5"/><circle cx="261.57" cy="98.88" r="1.5"/><circle cx="263.68" cy="98.82" r="1.5"/><circle cx="265.78" cy="101.40" r="1.5"/><circle cx="267.88" cy="108.36" r="1.5"/><circle cx="269.98" cy="99.21" r="1.5"/><circle cx="272.08" cy="96.85" r="1.5"/><circle cx="274.18" cy="99.59" r="1.5"/><circle cx="276.29" cy="99.37" r="1.5"/><circle cx="278.39" cy="105.07" r="1.5"/><circle cx="280.49" cy="100.47" r="1.5"/><circle cx="282.59" cy="99.59" r="1.5"/><circle cx="284.69" cy="99.92" r="1.5"/><circle cx="286.79" cy="96.85" r="1.5"/><circle cx="288.90" cy="99.59" r="1.5"/><circle cx="291.00" cy="99.59" r="1.5"/><circle cx="293.10" cy="99.59" r="1.5"/><circle cx="295.20" cy="100.47" r="1.5"/><circle cx="297.30" cy="94.06" r="1.5"/><circle cx="299.40" cy="95.92" r="1.5"/><circle cx="301.50" cy="100.14" r="1.5"/><circle cx="303.61" cy="97.40" r="1.5"/><circle cx="305.71" cy="97.40" r="1.5"/><circle cx="307.81" cy="92.41" r="1.5"/><circle cx="309.91" cy="97.40" r="1.5"/><circle cx="312.01" cy="93.12" r="1.5"/><circle cx="314.11" cy="90.93" r="1.5"/><circle cx="316.22" cy="95.54" r="1.5"/><circle cx="318.32" cy="90.00" r="1.5"/><circle cx="320.42" cy="97.95" r="1.5"/><circle cx="322.52" cy="90.00" r="1.5"/><circle cx="324.62" cy="92.41" r="1.5"/><circle cx="326.72" cy="95.54" r="1.5"/><circle cx="328.83" cy="93.12" r="1.5"/><circle cx="330.93" cy="93.12" r="1.5"/><circle cx="333.03" cy="93.12" r="1.5"/><circle cx="335.13" cy="91.86" r="1.5"/><circle cx="337.23" cy="89.12" r="1.5"/><circle cx="339.33" cy="90.55" r="1.5"/><circle cx="341.44" cy="94.11" r="1.5"/><circle cx="343.54" cy="93.34" r="1.5"/><circle cx="345.64" cy="91.92" r="1.5"/><circle cx="347.74" cy="85.51" r="1.5"/><circle cx="349.84" cy="84.96" r="1.5"/><circle cx="351.94" cy="92.25" r="1.5"/><circle cx="354.05" cy="94.66" r="1.5"/><circle cx="356.15" cy="93.89" r="1.5"/><circle cx="358.25" cy="92.85" r="1.5"/><circle cx="360.35" cy="89.12" r="1.5"/><circle cx="362.45" cy="84.96" r="1.5"/><circle cx="364.55" cy="84.96" r="1.5"/><circle cx="366.65" cy="88.58" r="1.5"/><circle cx="368.76" cy="84.96" r="1.5"/><circle cx="370.86" cy="87.86" r="1.5"/><circle cx="372.96" cy="87.32" r="1.5"/><circle cx="375.06" cy="90.44" r="1.5"/><circle cx="377.16" cy="86.38" r="1.5"/><circle cx="379.26" cy="80.85" r="1.5"/><circle cx="381.37" cy="85.78" r="1.5"/><circle cx="383.47" cy="85.78" r="1.5"/><circle cx="385.57" cy="83.48" r="1.5"/><circle cx="387.67" cy="79.53" r="1.5"/><circle cx="389.77" cy="82.82" r="1.5"/><circle cx="391.87" cy="84.14" r="1.5"/><circle cx="393.98" cy="78.60" r="1.5"/><circle cx="396.08" cy="84.14" r="1.5"/><circle cx="398.18" cy="79.92" r="1.5"/><circle cx="400.28" cy="79.92" r="1.5"/><circle cx="402.38" cy="85.07" r="1.5"/><circle cx="404.48" cy="83.59" r="1.5"/><circle cx="406.59" cy="86.93" r="1.5"/><circle cx="408.69" cy="83.59" r="1.5"/><circle cx="410.79" cy="79.53" r="1.5"/><circle cx="412.89" cy="85.45" r="1.5"/><circle cx="414.99" cy="77.73" r="1.5"/><circle cx="417.09" cy="79.81" r="1.5"/><circle cx="419.20" cy="80.79" r="1.5"/><circle cx="421.30" cy="76.85" r="1.5"/><circle cx="423.40" cy="81.18" r="1.5"/><circle cx="425.50" cy="83.15" r="1.5"/><circle cx="427.60" cy="81.84" r="1.5"/><circle cx="429.70" cy="82.71" r="1.5"/><circle cx="431.80" cy="79.21" r="1.5"/><circle cx="433.91" cy="75.86" r="1.5"/><circle cx="436.01" cy="81.18" r="1.5"/><circle cx="438.11" cy="79.21" r="1.5"/><circle cx="440.21" cy="71.92" r="1.5"/><circle cx="442.31" cy="69.34" r="1.5"/><circle cx="444.41" cy="71.42" r="1.5"/><circle cx="446.52" cy="72.90" r="1.5"/><circle cx="448.62" cy="67.42" r="1.5"/><circle cx="450.72" cy="72.52" r="1.5"/><circle cx="452.82" cy="73.18" r="1.5"/><circle cx="454.92" cy="70.88" r="1.5"/><circle cx="457.02" cy="67.75" r="1.5"/><circle cx="459.13" cy="68.68" r="1.5"/><circle cx="461.23" cy="72.63" r="1.5"/><circle cx="463.33" cy="64.90" r="1.5"/><circle cx="465.43" cy="67.75" r="1.5"/><circle cx="467.53" cy="69.12" r="1.5"/><circle cx="469.63" cy="68.14" r="1.5"/><circle cx="471.74" cy="67.75" r="1.5"/><circle cx="473.84" cy="69.73" r="1.5"/><circle cx="475.94" cy="63.31" r="1.5"/><circle cx="478.04" cy="63.20" r="1.5"/><circle cx="480.14" cy="62.55" r="1.5"/><circle cx="482.24" cy="64.52" r="1.5"/><circle cx="484.35" cy="66.49" r="1.5"/><circle cx="486.45" cy="64.52" r="1.5"/><circle cx="488.55" cy="64.90" r="1.5"/><circle cx="490.65" cy="56.24" r="1.5"/><circle cx="492.75" cy="54.98" r="1.5"/><circle cx="494.85" cy="64.90" r="1.5"/><circle cx="496.95" cy="64.30" r="1.5"/><circle cx="499.06" cy="63.86" r="1.5"/><circle cx="501.16" cy="62.49" r="1.5"/><circle cx="503.26" cy="62.49" r="1.5"/><circle cx="505.36" cy="58.33" r="1.5"/><circle cx="507.46" cy="59.09" r="1.5"/><circle cx="509.56" cy="54.38" r="1.5"/><circle cx="511.67" cy="62.49" r="1.5"/><circle cx="513.77" cy="58.33" r="1.5"/><circle cx="515.87" cy="55.15" r="1.5"/><circle cx="517.97" cy="48.85" r="1.5"/><circle cx="520.07" cy="53.18" r="1.5"/><circle cx="522.17" cy="55.75" r="1.5"/><circle cx="524.28" cy="53.78" r="1.5"/><circle cx="526.38" cy="57.83" r="1.5"/><circle cx="528.48" cy="53.18" r="1.5"/><circle cx="530.58" cy="53.72" r="1.5"/><circle cx="532.68" cy="56.30" r="1.5"/><circle cx="534.78" cy="55.31" r="1.5"/><circle cx="536.89" cy="56.30" r="1.5"/><circle cx="538.99" cy="52.96" r="1.5"/><circle cx="541.09" cy="47.04" r="1.5"/><circle cx="543.19" cy="54.33" r="1.5"/><circle cx="545.29" cy="43.15" r="1.5"/><circle cx="547.39" cy="45.89" r="1.5"/><circle cx="549.50" cy="45.12" r="1.5"/><circle cx="551.60" cy="48.41" r="1.5"/><circle cx="553.70" cy="48.41" r="1.5"/><circle cx="555.80" cy="44.52" r="1.5"/></g></g>
<path d="M34.6 146.50h4.5M555.8 146.50h-4.5M34.6 119.10h4.5M555.8 119.10h-4.5M34.6 91.70h4.5M555.8 91.70h-4.5M34.6 64.30h4.5M555.8 64.30h-4.5M34.6 36.90h4.5M555.8 36.90h-4.5M34.6 9.50h4.5M555.8 9.50h-4.5M34.60 146.5v-5M34.60 9.5v5M139.68 146.5v-5M139.68 9.5v5M244.76 146.5v-5M244.76 9.5v5M349.84 146.5v-5M349.84 9.5v5M454.92 146.5v-5M454.92 9.5v5" stroke="#a0a0a0" stroke-width="0.7" fill="none"/>
<rect x="37.4" y="12.4" width="96.4" height="28.1" fill="#fff" stroke="#888" stroke-width="0.6"/>
<path d="M38.8 17.6H51" stroke="#3a3aff" stroke-width="0.7"/><circle cx="45.2" cy="17.6" r="1" fill="none" stroke="#3a3aff" stroke-width="0.6"/>
<circle cx="45.5" cy="26.6" r="1.2" fill="#f00"/>
<path d="M45.5 32.4V38.4M44.4 32.4h2.2M44.4 38.4h2.2" stroke="#f44" stroke-width="0.6"/><circle cx="45.5" cy="35.4" r="0.8" fill="none" stroke="#f44" stroke-width="0.5"/>
<text x="52.2" y="20.6" font-size="7.3" fill="#000">Actual Life</text>
<text x="52.2" y="29.2" font-size="7.3" fill="#000">Predicted Life</text>
<text x="52.2" y="38.1" font-size="7.3" fill="#000">95% Confidence Interval</text>
<path d="M31.4 194.7H552.5" stroke="#ebebeb" stroke-width="1.2"/><path d="M31.4 194.7V332.4H552.5V194.7" stroke="#c2c2c2" stroke-width="1.1" fill="none"/>
<text x="29" y="334.30" font-size="4.1" text-anchor="end" fill="#333">-100</text>
<text x="29" y="320.53" font-size="4.1" text-anchor="end" fill="#333">-80</text>
<text x="29" y="306.76" font-size="4.1" text-anchor="end" fill="#333">-60</text>
<text x="29" y="292.99" font-size="4.1" text-anchor="end" fill="#333">-40</text>
<text x="29" y="279.22" font-size="4.1" text-anchor="end" fill="#333">-20</text>
<text x="29" y="265.45" font-size="4.1" text-anchor="end" fill="#333">0</text>
<text x="29" y="251.68" font-size="4.1" text-anchor="end" fill="#333">20</text>
<text x="29" y="237.91" font-size="4.1" text-anchor="end" fill="#333">40</text>
<text x="29" y="224.14" font-size="4.1" text-anchor="end" fill="#333">60</text>
<text x="29" y="210.37" font-size="4.1" text-anchor="end" fill="#333">80</text>
<text x="29" y="196.60" font-size="4.1" text-anchor="end" fill="#333">100</text>
<text x="31.40" y="338" font-size="4.3" text-anchor="middle" fill="#333">0</text>
<text x="136.46" y="338" font-size="4.3" text-anchor="middle" fill="#333">50</text>
<text x="241.52" y="338" font-size="4.3" text-anchor="middle" fill="#333">100</text>
<text x="346.58" y="338" font-size="4.3" text-anchor="middle" fill="#333">150</text>
<text x="451.64" y="338" font-size="4.3" text-anchor="middle" fill="#333">200</text>
<text x="291.5" y="346.8" font-size="7.25" text-anchor="middle" fill="#000">Testing engine</text>
<text transform="translate(18.3 263.6) rotate(-90)" font-size="7.45" text-anchor="middle" fill="#000">Prediction error</text>
<g clip-path="url(#cb)">
<polyline points="33.50,222.69 35.60,126.31 37.70,263.55 39.80,182.24 41.91,260.07 44.01,162.06 46.11,105.58 48.21,95.77 50.31,195.74 52.41,208.16 54.51,263.55 56.61,208.72 58.72,226.65 60.82,188.54 62.92,188.54 65.02,236.39 67.12,245.57 69.22,145.52 71.32,155.74 73.42,133.03 75.53,180.58 77.63,228.48 79.73,214.50 81.83,263.31 83.93,162.06 86.03,233.46 88.13,180.58 90.23,252.92 92.34,262.17 94.44,248.96 96.54,260.28 98.64,203.49 100.74,260.58 102.84,251.73 104.94,240.27 107.04,245.57 109.14,133.03 111.25,263.55 113.35,260.83 115.45,254.40 117.55,259.15 119.65,263.55 121.75,263.23 123.85,203.49 125.95,224.32 128.06,260.83 130.16,263.09 132.26,248.96 134.36,262.71 136.46,254.97 138.56,208.72 140.66,263.31 142.76,239.04 144.87,263.51 146.97,253.25 149.07,262.37 151.17,213.50 153.27,260.47 155.37,259.15 157.47,252.34 159.57,195.74 161.68,263.31 163.78,263.03 165.88,233.46 167.98,262.17 170.08,239.54 172.18,239.54 174.28,263.55 176.38,203.49 178.48,255.85 180.59,234.67 182.69,258.02 184.79,255.85 186.89,245.57 188.99,257.37 191.09,263.55 193.19,245.57 195.29,263.03 197.40,249.41 199.50,249.41 201.60,258.62 203.70,262.37 205.80,254.49 207.90,260.47 210.00,260.96 212.10,254.49 214.21,262.51 216.31,263.11 218.41,261.84 220.51,256.26 222.61,262.55 224.71,260.83 226.81,263.10 228.91,257.16 231.01,239.04 233.12,239.04 235.22,262.58 237.32,262.95 239.42,260.83 241.52,258.02 243.62,263.37 245.72,253.99 247.82,261.71 249.93,244.61 252.03,262.37 254.13,260.35 256.23,262.85 258.33,247.35 260.43,258.62 262.53,262.95 264.63,261.69 266.74,258.62 268.84,247.35 270.94,262.48 273.04,262.48 275.14,261.69 277.24,261.95 279.34,263.19 281.44,263.35 283.55,260.99 285.65,263.55 287.75,263.55 289.85,263.30 291.95,263.09 294.05,258.62 296.15,260.99 298.25,262.75 300.35,263.40 302.46,263.40 304.56,253.99 306.66,263.40 308.76,260.83 310.86,252.57 312.96,263.10 315.06,254.49 317.16,262.22 319.27,257.23 321.37,262.71 323.47,262.53 325.57,262.97 327.67,263.07 329.77,263.48 331.87,262.78 333.97,259.95 336.08,262.02 338.18,262.73 340.28,262.63 342.38,263.20 344.48,259.95 346.58,257.23 348.68,261.73 350.78,258.48 352.89,263.48 354.99,261.57 357.09,263.13 359.19,262.42 361.29,261.81 363.39,262.37 365.49,262.71 367.59,263.03 369.69,263.27 371.80,261.57 373.90,263.48 376.00,258.50 378.10,263.20 380.20,262.63 382.30,263.48 384.40,259.95 386.50,263.48 388.61,263.20 390.71,259.00 392.81,262.73 394.91,262.56 397.01,263.07 399.11,261.57 401.21,262.37 403.31,255.52 405.42,260.35 407.52,263.40 409.62,253.75 411.72,263.16 413.82,262.11 415.92,261.08 418.02,263.31 420.12,261.69 422.23,258.99 424.33,262.97 426.43,252.38 428.53,260.11 430.63,262.53 432.73,254.07 434.83,255.72 436.93,262.92 439.03,262.35 441.14,263.48 443.24,261.27 445.34,262.35 447.44,259.53 449.54,256.17 451.64,261.08 453.74,263.06 455.84,262.11 457.95,254.07 460.05,263.31 462.15,262.20 464.25,255.32 466.35,262.67 468.45,256.99 470.55,243.92 472.65,263.39 474.76,250.09 476.86,263.39 478.96,261.08 481.06,257.48 483.16,261.55 485.26,252.38 487.36,260.32 489.46,255.33 491.56,240.54 493.67,262.96 495.77,246.14 497.87,255.52 499.97,251.82 502.07,261.27 504.17,259.07 506.27,262.93 508.37,240.91 510.48,258.99 512.58,261.03 514.68,260.16 516.78,262.60 518.88,258.31 520.98,262.02 523.08,238.05 525.18,255.66 527.29,261.27 529.39,242.80 531.49,253.26 533.59,238.05 535.69,249.30 537.79,262.82 539.89,219.37 541.99,260.28 544.10,261.03 546.20,259.38 548.30,213.10 550.40,215.78 552.50,256.17" fill="none" stroke="#ff5050" stroke-width="0.4"/>
<polyline points="33.50,235.32 35.60,227.06 37.70,263.55 39.80,230.64 41.91,251.16 44.01,229.12 46.11,226.10 48.21,225.68 50.31,231.88 52.41,233.26 54.51,263.55 56.61,233.32 58.72,236.01 60.82,231.19 62.92,231.19 65.02,238.08 67.12,240.83 69.22,228.09 71.32,228.71 73.42,227.40 75.53,230.50 77.63,236.35 79.73,234.08 81.83,261.48 83.93,229.12 86.03,237.39 88.13,230.50 90.23,244.27 92.34,255.98 94.44,242.21 96.54,251.50 98.64,232.71 100.74,252.05 102.84,243.58 104.94,239.11 107.04,240.83 109.14,227.40 111.25,263.55 113.35,252.53 115.45,245.24 117.55,249.78 119.65,263.55 121.75,260.93 123.85,232.71 125.95,235.60 128.06,252.53 130.16,268.09 132.26,242.21 134.36,258.04 136.46,245.65 138.56,233.32 140.66,261.48 142.76,238.76 144.87,263.21 146.97,244.48 149.07,256.66 151.17,233.94 153.27,251.85 155.37,249.78 157.47,243.93 159.57,231.88 161.68,261.48 163.78,268.58 165.88,237.39 167.98,255.98 170.08,238.90 172.18,238.90 174.28,263.55 176.38,232.71 178.48,246.34 180.59,237.66 182.69,248.40 184.79,246.34 186.89,240.83 188.99,247.71 191.09,263.55 193.19,240.83 195.29,259.69 197.40,242.41 199.50,242.41 201.60,249.09 203.70,256.66 205.80,245.30 207.90,251.85 210.00,252.81 212.10,245.30 214.21,271.81 216.31,260.18 218.41,254.94 220.51,246.68 222.61,257.35 224.71,252.53 226.81,260.11 228.91,247.51 231.01,238.76 233.12,238.76 235.22,271.40 237.32,259.21 239.42,252.53 241.52,248.40 243.62,265.62 245.72,244.96 247.82,254.60 249.93,240.49 252.03,256.66 254.13,251.64 256.23,258.73 258.33,241.52 260.43,249.09 262.53,259.21 264.63,275.25 266.74,249.09 268.84,241.52 270.94,257.08 273.04,257.08 275.14,275.25 277.24,255.29 279.34,260.66 281.44,265.82 283.55,252.88 285.65,263.55 287.75,263.55 289.85,266.30 291.95,268.16 294.05,249.09 296.15,252.88 298.25,270.44 300.35,262.17 302.46,262.17 304.56,244.96 306.66,262.17 308.76,252.53 310.86,244.07 312.96,260.11 315.06,245.30 317.16,273.19 319.27,247.58 321.37,258.04 323.47,271.67 325.57,259.35 327.67,259.90 329.77,262.86 331.87,258.39 333.97,250.95 336.08,255.49 338.18,270.57 340.28,271.12 342.38,267.27 344.48,250.95 346.58,247.58 348.68,275.12 350.78,282.55 352.89,262.86 354.99,275.67 357.09,267.82 359.19,256.87 361.29,254.87 363.39,272.50 365.49,258.04 367.59,268.58 369.69,266.65 371.80,275.67 373.90,262.86 376.00,248.95 378.10,267.27 380.20,271.12 382.30,262.86 384.40,250.95 386.50,262.86 388.61,267.27 390.71,249.57 392.81,270.57 394.91,257.42 397.01,259.90 399.11,275.67 401.21,272.50 403.31,286.27 405.42,279.04 407.52,265.34 409.62,287.92 411.72,260.45 413.82,273.67 415.92,277.18 418.02,261.48 420.12,275.25 422.23,281.73 424.33,268.99 426.43,289.02 428.53,279.59 430.63,271.67 432.73,287.65 434.83,286.06 436.93,259.07 439.03,256.60 441.14,264.45 443.24,276.63 445.34,256.60 447.44,280.76 449.54,285.58 451.64,277.18 453.74,268.37 455.84,273.67 457.95,287.65 460.05,261.48 462.15,273.26 464.25,286.48 466.35,270.92 468.45,284.62 470.55,293.84 472.65,265.41 474.76,290.61 476.86,265.41 478.96,277.18 481.06,284.00 483.16,275.74 485.26,289.02 487.36,251.57 489.46,245.92 491.56,295.22 493.67,269.06 495.77,292.81 497.87,286.27 499.97,289.44 502.07,276.63 504.17,281.59 506.27,259.14 508.37,295.08 510.48,281.73 512.58,277.32 514.68,251.29 516.78,271.33 518.88,282.83 520.98,274.02 523.08,296.12 525.18,286.13 527.29,276.63 529.39,294.33 531.49,288.34 533.59,296.12 535.69,291.09 537.79,270.02 539.89,300.94 541.99,251.50 544.10,277.32 546.20,281.04 548.30,302.11 550.40,301.62 552.50,285.58" fill="none" stroke="#8888ff" stroke-width="0.4"/>
<g fill="#00f"><rect x="32.50" y="234.32" width="2" height="2"/><rect x="34.60" y="226.06" width="2" height="2"/><rect x="36.70" y="262.55" width="2" height="2"/><rect x="38.80" y="229.64" width="2" height="2"/><rect x="40.91" y="250.16" width="2" height="2"/><rect x="43.01" y="228.12" width="2" height="2"/><rect x="45.11" y="225.10" width="2" height="2"/><rect x="47.21" y="224.68" width="2" height="2"/><rect x="49.31" y="230.88" width="2" height="2"/><rect x="51.41" y="232.26" width="2" height="2"/><rect x="53.51" y="262.55" width="2" height="2"/><rect x="55.61" y="232.32" width="2" height="2"/><rect x="57.72" y="235.01" width="2" height="2"/><rect x="59.82" y="230.19" width="2" height="2"/><rect x="61.92" y="230.19" width="2" height="2"/><rect x="64.02" y="237.08" width="2" height="2"/><rect x="66.12" y="239.83" width="2" height="2"/><rect x="68.22" y="227.09" width="2" height="2"/><rect x="70.32" y="227.71" width="2" height="2"/><rect x="72.42" y="226.40" width="2" height="2"/><rect x="74.53" y="229.50" width="2" height="2"/><rect x="76.63" y="235.35" width="2" height="2"/><rect x="78.73" y="233.08" width="2" height="2"/><rect x="80.83" y="260.48" width="2" height="2"/><rect x="82.93" y="228.12" width="2" height="2"/><rect x="85.03" y="236.39" width="2" height="2"/><rect x="87.13" y="229.50" width="2" height="2"/><rect x="89.23" y="243.27" width="2" height="2"/><rect x="91.34" y="254.98" width="2" height="2"/><rect x="93.44" y="241.21" width="2" height="2"/><rect x="95.54" y="250.50" width="2" height="2"/><rect x="97.64" y="231.71" width="2" height="2"/><rect x="99.74" y="251.05" width="2" height="2"/><rect x="101.84" y="242.58" width="2" height="2"/><rect x="103.94" y="238.11" width="2" height="2"/><rect x="106.04" y="239.83" width="2" height="2"/><rect x="108.14" y="226.40" width="2" height="2"/><rect x="110.25" y="262.55" width="2" height="2"/><rect x="112.35" y="251.53" width="2" height="2"/><rect x="114.45" y="244.24" width="2" height="2"/><rect x="116.55" y="248.78" width="2" height="2"/><rect x="118.65" y="262.55" width="2" height="2"/><rect x="120.75" y="259.93" width="2" height="2"/><rect x="122.85" y="231.71" width="2" height="2"/><rect x="124.95" y="234.60" width="2" height="2"/><rect x="127.06" y="251.53" width="2" height="2"/><rect x="129.16" y="267.09" width="2" height="2"/><rect x="131.26" y="241.21" width="2" height="2"/><rect x="133.36" y="257.04" width="2" height="2"/><rect x="135.46" y="244.65" width="2" height="2"/><rect x="137.56" y="232.32" width="2" height="2"/><rect x="139.66" y="260.48" width="2" height="2"/><rect x="141.76" y="237.76" width="2" height="2"/><rect x="143.87" y="262.21" width="2" height="2"/><rect x="145.97" y="243.48" width="2" height="2"/><rect x="148.07" y="255.66" width="2" height="2"/><rect x="150.17" y="232.94" width="2" height="2"/><rect x="152.27" y="250.85" width="2" height="2"/><rect x="154.37" y="248.78" width="2" height="2"/><rect x="156.47" y="242.93" width="2" height="2"/><rect x="158.57" y="230.88" width="2" height="2"/><rect x="160.68" y="260.48" width="2" height="2"/><rect x="162.78" y="267.58" width="2" height="2"/><rect x="164.88" y="236.39" width="2" height="2"/><rect x="166.98" y="254.98" width="2" height="2"/><rect x="169.08" y="237.90" width="2" height="2"/><rect x="171.18" y="237.90" width="2" height="2"/><rect x="173.28" y="262.55" width="2" height="2"/><rect x="175.38" y="231.71" width="2" height="2"/><rect x="177.48" y="245.34" width="2" height="2"/><rect x="179.59" y="236.66" width="2" height="2"/><rect x="181.69" y="247.40" width="2" height="2"/><rect x="183.79" y="245.34" width="2" height="2"/><rect x="185.89" y="239.83" width="2" height="2"/><rect x="187.99" y="246.71" width="2" height="2"/><rect x="190.09" y="262.55" width="2" height="2"/><rect x="192.19" y="239.83" width="2" height="2"/><rect x="194.29" y="258.69" width="2" height="2"/><rect x="196.40" y="241.41" width="2" height="2"/><rect x="198.50" y="241.41" width="2" height="2"/><rect x="200.60" y="248.09" width="2" height="2"/><rect x="202.70" y="255.66" width="2" height="2"/><rect x="204.80" y="244.30" width="2" height="2"/><rect x="206.90" y="250.85" width="2" height="2"/><rect x="209.00" y="251.81" width="2" height="2"/><rect x="211.10" y="244.30" width="2" height="2"/><rect x="213.21" y="270.81" width="2" height="2"/><rect x="215.31" y="259.18" width="2" height="2"/><rect x="217.41" y="253.94" width="2" height="2"/><rect x="219.51" y="245.68" width="2" height="2"/><rect x="221.61" y="256.35" width="2" height="2"/><rect x="223.71" y="251.53" width="2" height="2"/><rect x="225.81" y="259.11" width="2" height="2"/><rect x="227.91" y="246.51" width="2" height="2"/><rect x="230.01" y="237.76" width="2" height="2"/><rect x="232.12" y="237.76" width="2" height="2"/><rect x="234.22" y="270.40" width="2" height="2"/><rect x="236.32" y="258.21" width="2" height="2"/><rect x="238.42" y="251.53" width="2" height="2"/><rect x="240.52" y="247.40" width="2" height="2"/><rect x="242.62" y="264.62" width="2" height="2"/><rect x="244.72" y="243.96" width="2" height="2"/><rect x="246.82" y="253.60" width="2" height="2"/><rect x="248.93" y="239.49" width="2" height="2"/><rect x="251.03" y="255.66" width="2" height="2"/><rect x="253.13" y="250.64" width="2" height="2"/><rect x="255.23" y="257.73" width="2" height="2"/><rect x="257.33" y="240.52" width="2" height="2"/><rect x="259.43" y="248.09" width="2" height="2"/><rect x="261.53" y="258.21" width="2" height="2"/><rect x="263.63" y="274.25" width="2" height="2"/><rect x="265.74" y="248.09" width="2" height="2"/><rect x="267.84" y="240.52" width="2" height="2"/><rect x="269.94" y="256.08" width="2" height="2"/><rect x="272.04" y="256.08" width="2" height="2"/><rect x="274.14" y="274.25" width="2" height="2"/><rect x="276.24" y="254.29" width="2" height="2"/><rect x="278.34" y="259.66" width="2" height="2"/><rect x="280.44" y="264.82" width="2" height="2"/><rect x="282.55" y="251.88" width="2" height="2"/><rect x="284.65" y="262.55" width="2" height="2"/><rect x="286.75" y="262.55" width="2" height="2"/><rect x="288.85" y="265.30" width="2" height="2"/><rect x="290.95" y="267.16" width="2" height="2"/><rect x="293.05" y="248.09" width="2" height="2"/><rect x="295.15" y="251.88" width="2" height="2"/><rect x="297.25" y="269.44" width="2" height="2"/><rect x="299.35" y="261.17" width="2" height="2"/><rect x="301.46" y="261.17" width="2" height="2"/><rect x="303.56" y="243.96" width="2" height="2"/><rect x="305.66" y="261.17" width="2" height="2"/><rect x="307.76" y="251.53" width="2" height="2"/><rect x="309.86" y="243.07" width="2" height="2"/><rect x="311.96" y="259.11" width="2" height="2"/><rect x="314.06" y="244.30" width="2" height="2"/><rect x="316.16" y="272.19" width="2" height="2"/><rect x="318.27" y="246.58" width="2" height="2"/><rect x="320.37" y="257.04" width="2" height="2"/><rect x="322.47" y="270.67" width="2" height="2"/><rect x="324.57" y="258.35" width="2" height="2"/><rect x="326.67" y="258.90" width="2" height="2"/><rect x="328.77" y="261.86" width="2" height="2"/><rect x="330.87" y="257.39" width="2" height="2"/><rect x="332.97" y="249.95" width="2" height="2"/><rect x="335.08" y="254.49" width="2" height="2"/><rect x="337.18" y="269.57" width="2" height="2"/><rect x="339.28" y="270.12" width="2" height="2"/><rect x="341.38" y="266.27" width="2" height="2"/><rect x="343.48" y="249.95" width="2" height="2"/><rect x="345.58" y="246.58" width="2" height="2"/><rect x="347.68" y="274.12" width="2" height="2"/><rect x="349.78" y="281.55" width="2" height="2"/><rect x="351.89" y="261.86" width="2" height="2"/><rect x="353.99" y="274.67" width="2" height="2"/><rect x="356.09" y="266.82" width="2" height="2"/><rect x="358.19" y="255.87" width="2" height="2"/><rect x="360.29" y="253.87" width="2" height="2"/><rect x="362.39" y="271.50" width="2" height="2"/><rect x="364.49" y="257.04" width="2" height="2"/><rect x="366.59" y="267.58" width="2" height="2"/><rect x="368.69" y="265.65" width="2" height="2"/><rect x="370.80" y="274.67" width="2" height="2"/><rect x="372.90" y="261.86" width="2" height="2"/><rect x="375.00" y="247.95" width="2" height="2"/><rect x="377.10" y="266.27" width="2" height="2"/><rect x="379.20" y="270.12" width="2" height="2"/><rect x="381.30" y="261.86" width="2" height="2"/><rect x="383.40" y="249.95" width="2" height="2"/><rect x="385.50" y="261.86" width="2" height="2"/><rect x="387.61" y="266.27" width="2" height="2"/><rect x="389.71" y="248.57" width="2" height="2"/><rect x="391.81" y="269.57" width="2" height="2"/><rect x="393.91" y="256.42" width="2" height="2"/><rect x="396.01" y="258.90" width="2" height="2"/><rect x="398.11" y="274.67" width="2" height="2"/><rect x="400.21" y="271.50" width="2" height="2"/><rect x="402.31" y="285.27" width="2" height="2"/><rect x="404.42" y="278.04" width="2" height="2"/><rect x="406.52" y="264.34" width="2" height="2"/><rect x="408.62" y="286.92" width="2" height="2"/><rect x="410.72" y="259.45" width="2" height="2"/><rect x="412.82" y="272.67" width="2" height="2"/><rect x="414.92" y="276.18" width="2" height="2"/><rect x="417.02" y="260.48" width="2" height="2"/><rect x="419.12" y="274.25" width="2" height="2"/><rect x="421.23" y="280.73" width="2" height="2"/><rect x="423.33" y="267.99" width="2" height="2"/><rect x="425.43" y="288.02" width="2" height="2"/><rect x="427.53" y="278.59" width="2" height="2"/><rect x="429.63" y="270.67" width="2" height="2"/><rect x="431.73" y="286.65" width="2" height="2"/><rect x="433.83" y="285.06" width="2" height="2"/><rect x="435.93" y="258.07" width="2" height="2"/><rect x="438.03" y="255.60" width="2" height="2"/><rect x="440.14" y="263.45" width="2" height="2"/><rect x="442.24" y="275.63" width="2" height="2"/><rect x="444.34" y="255.60" width="2" height="2"/><rect x="446.44" y="279.76" width="2" height="2"/><rect x="448.54" y="284.58" width="2" height="2"/><rect x="450.64" y="276.18" width="2" height="2"/><rect x="452.74" y="267.37" width="2" height="2"/><rect x="454.84" y="272.67" width="2" height="2"/><rect x="456.95" y="286.65" width="2" height="2"/><rect x="459.05" y="260.48" width="2" height="2"/><rect x="461.15" y="272.26" width="2" height="2"/><rect x="463.25" y="285.48" width="2" height="2"/><rect x="465.35" y="269.92" width="2" height="2"/><rect x="467.45" y="283.62" width="2" height="2"/><rect x="469.55" y="292.84" width="2" height="2"/><rect x="471.65" y="264.41" width="2" height="2"/><rect x="473.76" y="289.61" width="2" height="2"/><rect x="475.86" y="264.41" width="2" height="2"/><rect x="477.96" y="276.18" width="2" height="2"/><rect x="480.06" y="283.00" width="2" height="2"/><rect x="482.16" y="274.74" width="2" height="2"/><rect x="484.26" y="288.02" width="2" height="2"/><rect x="486.36" y="250.57" width="2" height="2"/><rect x="488.46" y="244.92" width="2" height="2"/><rect x="490.56" y="294.22" width="2" height="2"/><rect x="492.67" y="268.06" width="2" height="2"/><rect x="494.77" y="291.81" width="2" height="2"/><rect x="496.87" y="285.27" width="2" height="2"/><rect x="498.97" y="288.44" width="2" height="2"/><rect x="501.07" y="275.63" width="2" height="2"/><rect x="503.17" y="280.59" width="2" height="2"/><rect x="505.27" y="258.14" width="2" height="2"/><rect x="507.37" y="294.08" width="2" height="2"/><rect x="509.48" y="280.73" width="2" height="2"/><rect x="511.58" y="276.32" width="2" height="2"/><rect x="513.68" y="250.29" width="2" height="2"/><rect x="515.78" y="270.33" width="2" height="2"/><rect x="517.88" y="281.83" width="2" height="2"/><rect x="519.98" y="273.02" width="2" height="2"/><rect x="522.08" y="295.12" width="2" height="2"/><rect x="524.18" y="285.13" width="2" height="2"/><rect x="526.29" y="275.63" width="2" height="2"/><rect x="528.39" y="293.33" width="2" height="2"/><rect x="530.49" y="287.34" width="2" height="2"/><rect x="532.59" y="295.12" width="2" height="2"/><rect x="534.69" y="290.09" width="2" height="2"/><rect x="536.79" y="269.02" width="2" height="2"/><rect x="538.89" y="299.94" width="2" height="2"/><rect x="540.99" y="250.50" width="2" height="2"/><rect x="543.10" y="276.32" width="2" height="2"/><rect x="545.20" y="280.04" width="2" height="2"/><rect x="547.30" y="301.11" width="2" height="2"/><rect x="549.40" y="300.62" width="2" height="2"/><rect x="551.50" y="284.58" width="2" height="2"/></g>
<g fill="#f00"><path d="M33.50 221.19l1.5 1.5l-1.5 1.5l-1.5 -1.5z"/><path d="M37.70 262.05l1.5 1.5l-1.5 1.5l-1.5 -1.5z"/><path d="M41.91 258.57l1.5 1.5l-1.5 1.5l-1.5 -1.5z"/><path d="M50.31 194.24l1.5 1.5l-1.5 1.5l-1.5 -1.5z"/><path d="M52.41 206.66l1.5 1.5l-1.5 1.5l-1.5 -1.5z"/><path d="M54.51 262.05l1.5 1.5l-1.5 1.5l-1.5 -1.5z"/><path d="M56.61 207.22l1.5 1.5l-1.5 1.5l-1.5 -1.5z"/><path d="M58.72 225.15l1.5 1.5l-1.5 1.5l-1.5 -1.5z"/><path d="M65.02 234.89l1.5 1.5l-1.5 1.5l-1.5 -1.5z"/><path d="M67.12 244.07l1.5 1.5l-1.5 1.5l-1.5 -1.5z"/><path d="M77.63 226.98l1.5 1.5l-1.5 1.5l-1.5 -1.5z"/><path d="M79.73 213.00l1.5 1.5l-1.5 1.5l-1.5 -1.5z"/><path d="M81.83 261.81l1.5 1.5l-1.5 1.5l-1.5 -1.5z"/><path d="M86.03 231.96l1.5 1.5l-1.5 1.5l-1.5 -1.5z"/><path d="M90.23 251.42l1.5 1.5l-1.5 1.5l-1.5 -1.5z"/><path d="M92.34 260.67l1.5 1.5l-1.5 1.5l-1.5 -1.5z"/><path d="M94.44 247.46l1.5 1.5l-1.5 1.5l-1.5 -1.5z"/><path d="M96.54 258.78l1.5 1.5l-1.5 1.5l-1.5 -1.5z"/><path d="M98.64 201.99l1.5 1.5l-1.5 1.5l-1.5 -1.5z"/><path d="M100.74 259.08l1.5 1.5l-1.5 1.5l-1.5 -1.5z"/><path d="M102.84 250.23l1.5 1.5l-1.5 1.5l-1.5 -1.5z"/><path d="M104.94 238.77l1.5 1.5l-1.5 1.5l-1.5 -1.5z"/><path d="M107.04 244.07l1.5 1.5l-1.5 1.5l-1.5 -1.5z"/><path d="M111.25 262.05l1.5 1.5l-1.5 1.5l-1.5 -1.5z"/><path d="M113.35 259.33l1.5 1.5l-1.5 1.5l-1.5 -1.5z"/><path d="M115.45 252.90l1.5 1.5l-1.5 1.5l-1.5 -1.5z"/><path d="M117.55 257.65l1.5 1.5l-1.5 1.5l-1.5 -1.5z"/><path d="M119.65 262.05l1.5 1.5l-1.5 1.5l-1.5 -1.5z"/><path d="M121.75 261.73l1.5 1.5l-1.5 1.5l-1.5 -1.5z"/><path d="M123.85 201.99l1.5 1.5l-1.5 1.5l-1.5 -1.5z"/><path d="M125.95 222.82l1.5 1.5l-1.5 1.5l-1.5 -1.5z"/><path d="M128.06 259.33l1.5 1.5l-1.5 1.5l-1.5 -1.5z"/><path d="M130.16 261.59l1.5 1.5l-1.5 1.5l-1.5 -1.5z"/><path d="M132.26 247.46l1.5 1.5l-1.5 1.5l-1.5 -1.5z"/><path d="M134.36 261.21l1.5 1.5l-1.5 1.5l-1.5 -1.5z"/><path d="M136.46 253.47l1.5 1.5l-1.5 1.5l-1.5 -1.5z"/><path d="M138.56 207.22l1.5 1.5l-1.5 1.5l-1.5 -1.5z"/><path d="M140.66 261.81l1.5 1.5l-1.5 1.5l-1.5 -1.5z"/><path d="M142.76 237.54l1.5 1.5l-1.5 1.5l-1.5 -1.5z"/><path d="M144.87 262.01l1.5 1.5l-1.5 1.5l-1.5 -1.5z"/><path d="M146.97 251.75l1.5 1.5l-1.5 1.5l-1.5 -1.5z"/><path d="M149.07 260.87l1.5 1.5l-1.5 1.5l-1.5 -1.5z"/><path d="M151.17 212.00l1.5 1.5l-1.5 1.5l-1.5 -1.5z"/><path d="M153.27 258.97l1.5 1.5l-1.5 1.5l-1.5 -1.5z"/><path d="M155.37 257.65l1.5 1.5l-1.5 1.5l-1.5 -1.5z"/><path d="M157.47 250.84l1.5 1.5l-1.5 1.5l-1.5 -1.5z"/><path d="M159.57 194.24l1.5 1.5l-1.5 1.5l-1.5 -1.5z"/><path d="M161.68 261.81l1.5 1.5l-1.5 1.5l-1.5 -1.5z"/><path d="M163.78 261.53l1.5 1.5l-1.5 1.5l-1.5 -1.5z"/><path d="M165.88 231.96l1.5 1.5l-1.5 1.5l-1.5 -1.5z"/><path d="M167.98 260.67l1.5 1.5l-1.5 1.5l-1.5 -1.5z"/><path d="M170.08 238.04l1.5 1.5l-1.5 1.5l-1.5 -1.5z"/><path d="M172.18 238.04l1.5 1.5l-1.5 1.5l-1.5 -1.5z"/><path d="M174.28 262.05l1.5 1.5l-1.5 1.5l-1.5 -1.5z"/><path d="M176.38 201.99l1.5 1.5l-1.5 1.5l-1.5 -1.5z"/><path d="M178.48 254.35l1.5 1.5l-1.5 1.5l-1.5 -1.5z"/><path d="M180.59 233.17l1.5 1.5l-1.5 1.5l-1.5 -1.5z"/><path d="M182.69 256.52l1.5 1.5l-1.5 1.5l-1.5 -1.5z"/><path d="M184.79 254.35l1.5 1.5l-1.5 1.5l-1.5 -1.5z"/><path d="M186.89 244.07l1.5 1.5l-1.5 1.5l-1.5 -1.5z"/><path d="M188.99 255.87l1.5 1.5l-1.5 1.5l-1.5 -1.5z"/><path d="M191.09 262.05l1.5 1.5l-1.5 1.5l-1.5 -1.5z"/><path d="M193.19 244.07l1.5 1.5l-1.5 1.5l-1.5 -1.5z"/><path d="M195.29 261.53l1.5 1.5l-1.5 1.5l-1.5 -1.5z"/><path d="M197.40 247.91l1.5 1.5l-1.5 1.5l-1.5 -1.5z"/><path d="M199.50 247.91l1.5 1.5l-1.5 1.5l-1.5 -1.5z"/><path d="M201.60 257.12l1.5 1.5l-1.5 1.5l-1.5 -1.5z"/><path d="M203.70 260.87l1.5 1.5l-1.5 1.5l-1.5 -1.5z"/><path d="M205.80 252.99l1.5 1.5l-1.5 1.5l-1.5 -1.5z"/><path d="M207.90 258.97l1.5 1.5l-1.5 1.5l-1.5 -1.5z"/><path d="M210.00 259.46l1.5 1.5l-1.5 1.5l-1.5 -1.5z"/><path d="M212.10 252.99l1.5 1.5l-1.5 1.5l-1.5 -1.5z"/><path d="M214.21 261.01l1.5 1.5l-1.5 1.5l-1.5 -1.5z"/><path d="M216.31 261.61l1.5 1.5l-1.5 1.5l-1.5 -1.5z"/><path d="M218.41 260.34l1.5 1.5l-1.5 1.5l-1.5 -1.5z"/><path d="M220.51 254.76l1.5 1.5l-1.5 1.5l-1.5 -1.5z"/><path d="M222.61 261.05l1.5 1.5l-1.5 1.5l-1.5 -1.5z"/><path d="M224.71 259.33l1.5 1.5l-1.5 1.5l-1.5 -1.5z"/><path d="M226.81 261.60l1.5 1.5l-1.5 1.5l-1.5 -1.5z"/><path d="M228.91 255.66l1.5 1.5l-1.5 1.5l-1.5 -1.5z"/><path d="M231.01 237.54l1.5 1.5l-1.5 1.5l-1.5 -1.5z"/><path d="M233.12 237.54l1.5 1.5l-1.5 1.5l-1.5 -1.5z"/><path d="M235.22 261.08l1.5 1.5l-1.5 1.5l-1.5 -1.5z"/><path d="M237.32 261.45l1.5 1.5l-1.5 1.5l-1.5 -1.5z"/><path d="M239.42 259.33l1.5 1.5l-1.5 1.5l-1.5 -1.5z"/><path d="M241.52 256.52l1.5 1.5l-1.5 1.5l-1.5 -1.5z"/><path d="M243.62 261.87l1.5 1.5l-1.5 1.5l-1.5 -1.5z"/><path d="M245.72 252.49l1.5 1.5l-1.5 1.5l-1.5 -1.5z"/><path d="M247.82 260.21l1.5 1.5l-1.5 1.5l-1.5 -1.5z"/><path d="M249.93 243.11l1.5 1.5l-1.5 1.5l-1.5 -1.5z"/><path d="M252.03 260.87l1.5 1.5l-1.5 1.5l-1.5 -1.5z"/><path d="M254.13 258.85l1.5 1.5l-1.5 1.5l-1.5 -1.5z"/><path d="M256.23 261.35l1.5 1.5l-1.5 1.5l-1.5 -1.5z"/><path d="M258.33 245.85l1.5 1.5l-1.5 1.5l-1.5 -1.5z"/><path d="M260.43 257.12l1.5 1.5l-1.5 1.5l-1.5 -1.5z"/><path d="M262.53 261.45l1.5 1.5l-1.5 1.5l-1.5 -1.5z"/><path d="M264.63 260.19l1.5 1.5l-1.5 1.5l-1.5 -1.5z"/><path d="M266.74 257.12l1.5 1.5l-1.5 1.5l-1.5 -1.5z"/><path d="M268.84 245.85l1.5 1.5l-1.5 1.5l-1.5 -1.5z"/><path d="M270.94 260.98l1.5 1.5l-1.5 1.5l-1.5 -1.5z"/><path d="M273.04 260.98l1.5 1.5l-1.5 1.5l-1.5 -1.5z"/><path d="M275.14 260.19l1.5 1.5l-1.5 1.5l-1.5 -1.5z"/><path d="M277.24 260.45l1.5 1.5l-1.5 1.5l-1.5 -1.5z"/><path d="M279.34 261.69l1.5 1.5l-1.5 1.5l-1.5 -1.5z"/><path d="M281.44 261.85l1.5 1.5l-1.5 1.5l-1.5 -1.5z"/><path d="M283.55 259.49l1.5 1.5l-1.5 1.5l-1.5 -1.5z"/><path d="M285.65 262.05l1.5 1.5l-1.5 1.5l-1.5 -1.5z"/><path d="M287.75 262.05l1.5 1.5l-1.5 1.5l-1.5 -1.5z"/><path d="M289.85 261.80l1.5 1.5l-1.5 1.5l-1.5 -1.5z"/><path d="M291.95 261.59l1.5 1.5l-1.5 1.5l-1.5 -1.5z"/><path d="M294.05 257.12l1.5 1.5l-1.5 1.5l-1.5 -1.5z"/><path d="M296.15 259.49l1.5 1.5l-1.5 1.5l-1.5 -1.5z"/><path d="M298.25 261.25l1.5 1.5l-1.5 1.5l-1.5 -1.5z"/><path d="M300.35 261.90l1.5 1.5l-1.5 1.5l-1.5 -1.5z"/><path d="M302.46 261.90l1.5 1.5l-1.5 1.5l-1.5 -1.5z"/><path d="M304.56 252.49l1.5 1.5l-1.5 1.5l-1.5 -1.5z"/><path d="M306.66 261.90l1.5 1.5l-1.5 1.5l-1.5 -1.5z"/><path d="M308.76 259.33l1.5 1.5l-1.5 1.5l-1.5 -1.5z"/><path d="M310.86 251.07l1.5 1.5l-1.5 1.5l-1.5 -1.5z"/><path d="M312.96 261.60l1.5 1.5l-1.5 1.5l-1.5 -1.5z"/><path d="M315.06 252.99l1.5 1.5l-1.5 1.5l-1.5 -1.5z"/><path d="M317.16 260.72l1.5 1.5l-1.5 1.5l-1.5 -1.5z"/><path d="M319.27 255.73l1.5 1.5l-1.5 1.5l-1.5 -1.5z"/><path d="M321.37 261.21l1.5 1.5l-1.5 1.5l-1.5 -1.5z"/><path d="M323.47 261.03l1.5 1.5l-1.5 1.5l-1.5 -1.5z"/><path d="M325.57 261.47l1.5 1.5l-1.5 1.5l-1.5 -1.5z"/><path d="M327.67 261.57l1.5 1.5l-1.5 1.5l-1.5 -1.5z"/><path d="M329.77 261.98l1.5 1.5l-1.5 1.5l-1.5 -1.5z"/><path d="M331.87 261.28l1.5 1.5l-1.5 1.5l-1.5 -1.5z"/><path d="M333.97 258.45l1.5 1.5l-1.5 1.5l-1.5 -1.5z"/><path d="M336.08 260.52l1.5 1.5l-1.5 1.5l-1.5 -1.5z"/><path d="M338.18 261.23l1.5 1.5l-1.5 1.5l-1.5 -1.5z"/><path d="M340.28 261.13l1.5 1.5l-1.5 1.5l-1.5 -1.5z"/><path d="M342.38 261.70l1.5 1.5l-1.5 1.5l-1.5 -1.5z"/><path d="M344.48 258.45l1.5 1.5l-1.5 1.5l-1.5 -1.5z"/><path d="M346.58 255.73l1.5 1.5l-1.5 1.5l-1.5 -1.5z"/><path d="M348.68 260.23l1.5 1.5l-1.5 1.5l-1.5 -1.5z"/><path d="M350.78 256.98l1.5 1.5l-1.5 1.5l-1.5 -1.5z"/><path d="M352.89 261.98l1.5 1.5l-1.5 1.5l-1.5 -1.5z"/><path d="M354.99 260.07l1.5 1.5l-1.5 1.5l-1.5 -1.5z"/><path d="M357.09 261.63l1.5 1.5l-1.5 1.5l-1.5 -1.5z"/><path d="M359.19 260.92l1.5 1.5l-1.5 1.5l-1.5 -1.5z"/><path d="M361.29 260.31l1.5 1.5l-1.5 1.5l-1.5 -1.5z"/><path d="M363.39 260.87l1.5 1.5l-1.5 1.5l-1.5 -1.5z"/><path d="M365.49 261.21l1.5 1.5l-1.5 1.5l-1.5 -1.5z"/><path d="M367.59 261.53l1.5 1.5l-1.5 1.5l-1.5 -1.5z"/><path d="M369.69 261.77l1.5 1.5l-1.5 1.5l-1.5 -1.5z"/><path d="M371.80 260.07l1.5 1.5l-1.5 1.5l-1.5 -1.5z"/><path d="M373.90 261.98l1.5 1.5l-1.5 1.5l-1.5 -1.5z"/><path d="M376.00 257.00l1.5 1.5l-1.5 1.5l-1.5 -1.5z"/><path d="M378.10 261.70l1.5 1.5l-1.5 1.5l-1.5 -1.5z"/><path d="M380.20 261.13l1.5 1.5l-1.5 1.5l-1.5 -1.5z"/><path d="M382.30 261.98l1.5 1.5l-1.5 1.5l-1.5 -1.5z"/><path d="M384.40 258.45l1.5 1.5l-1.5 1.5l-1.5 -1.5z"/><path d="M386.50 261.98l1.5 1.5l-1.5 1.5l-1.5 -1.5z"/><path d="M388.61 261.70l1.5 1.5l-1.5 1.5l-1.5 -1.5z"/><path d="M390.71 257.50l1.5 1.5l-1.5 1.5l-1.5 -1.5z"/><path d="M392.81 261.23l1.5 1.5l-1.5 1.5l-1.5 -1.5z"/><path d="M394.91 261.06l1.5 1.5l-1.5 1.5l-1.5 -1.5z"/><path d="M397.01 261.57l1.5 1.5l-1.5 1.5l-1.5 -1.5z"/><path d="M399.11 260.07l1.5 1.5l-1.5 1.5l-1.5 -1.5z"/><path d="M401.21 260.87l1.5 1.5l-1.5 1.5l-1.5 -1.5z"/><path d="M403.31 254.02l1.5 1.5l-1.5 1.5l-1.5 -1.5z"/><path d="M405.42 258.85l1.5 1.5l-1.5 1.5l-1.5 -1.5z"/><path d="M407.52 261.90l1.5 1.5l-1.5 1.5l-1.5 -1.5z"/><path d="M409.62 252.25l1.5 1.5l-1.5 1.5l-1.5 -1.5z"/><path d="M411.72 261.66l1.5 1.5l-1.5 1.5l-1.5 -1.5z"/><path d="M413.82 260.61l1.5 1.5l-1.5 1.5l-1.5 -1.5z"/><path d="M415.92 259.58l1.5 1.5l-1.5 1.5l-1.5 -1.5z"/><path d="M418.02 261.81l1.5 1.5l-1.5 1.5l-1.5 -1.5z"/><path d="M420.12 260.19l1.5 1.5l-1.5 1.5l-1.5 -1.5z"/><path d="M422.23 257.49l1.5 1.5l-1.5 1.5l-1.5 -1.5z"/><path d="M424.33 261.47l1.5 1.5l-1.5 1.5l-1.5 -1.5z"/><path d="M426.43 250.88l1.5 1.5l-1.5 1.5l-1.5 -1.5z"/><path d="M428.53 258.61l1.5 1.5l-1.5 1.5l-1.5 -1.5z"/><path d="M430.63 261.03l1.5 1.5l-1.5 1.5l-1.5 -1.5z"/><path d="M432.73 252.57l1.5 1.5l-1.5 1.5l-1.5 -1.5z"/><path d="M434.83 254.22l1.5 1.5l-1.5 1.5l-1.5 -1.5z"/><path d="M436.93 261.42l1.5 1.5l-1.5 1.5l-1.5 -1.5z"/><path d="M439.03 260.85l1.5 1.5l-1.5 1.5l-1.5 -1.5z"/><path d="M441.14 261.98l1.5 1.5l-1.5 1.5l-1.5 -1.5z"/><path d="M443.24 259.77l1.5 1.5l-1.5 1.5l-1.5 -1.5z"/><path d="M445.34 260.85l1.5 1.5l-1.5 1.5l-1.5 -1.5z"/><path d="M447.44 258.03l1.5 1.5l-1.5 1.5l-1.5 -1.5z"/><path d="M449.54 254.67l1.5 1.5l-1.5 1.5l-1.5 -1.5z"/><path d="M451.64 259.58l1.5 1.5l-1.5 1.5l-1.5 -1.5z"/><path d="M453.74 261.56l1.5 1.5l-1.5 1.5l-1.5 -1.5z"/><path d="M455.84 260.61l1.5 1.5l-1.5 1.5l-1.5 -1.5z"/><path d="M457.95 252.57l1.5 1.5l-1.5 1.5l-1.5 -1.5z"/><path d="M460.05 261.81l1.5 1.5l-1.5 1.5l-1.5 -1.5z"/><path d="M462.15 260.70l1.5 1.5l-1.5 1.5l-1.5 -1.5z"/><path d="M464.25 253.82l1.5 1.5l-1.5 1.5l-1.5 -1.5z"/><path d="M466.35 261.17l1.5 1.5l-1.5 1.5l-1.5 -1.5z"/><path d="M468.45 255.49l1.5 1.5l-1.5 1.5l-1.5 -1.5z"/><path d="M470.55 242.42l1.5 1.5l-1.5 1.5l-1.5 -1.5z"/><path d="M472.65 261.89l1.5 1.5l-1.5 1.5l-1.5 -1.5z"/><path d="M474.76 248.59l1.5 1.5l-1.5 1.5l-1.5 -1.5z"/><path d="M476.86 261.89l1.5 1.5l-1.5 1.5l-1.5 -1.5z"/><path d="M478.96 259.58l1.5 1.5l-1.5 1.5l-1.5 -1.5z"/><path d="M481.06 255.98l1.5 1.5l-1.5 1.5l-1.5 -1.5z"/><path d="M483.16 260.05l1.5 1.5l-1.5 1.5l-1.5 -1.5z"/><path d="M485.26 250.88l1.5 1.5l-1.5 1.5l-1.5 -1.5z"/><path d="M487.36 258.82l1.5 1.5l-1.5 1.5l-1.5 -1.5z"/><path d="M489.46 253.83l1.5 1.5l-1.5 1.5l-1.5 -1.5z"/><path d="M491.56 239.04l1.5 1.5l-1.5 1.5l-1.5 -1.5z"/><path d="M493.67 261.46l1.5 1.5l-1.5 1.5l-1.5 -1.5z"/><path d="M495.77 244.64l1.5 1.5l-1.5 1.5l-1.5 -1.5z"/><path d="M497.87 254.02l1.5 1.5l-1.5 1.5l-1.5 -1.5z"/><path d="M499.97 250.32l1.5 1.5l-1.5 1.5l-1.5 -1.5z"/><path d="M502.07 259.77l1.5 1.5l-1.5 1.5l-1.5 -1.5z"/><path d="M504.17 257.57l1.5 1.5l-1.5 1.5l-1.5 -1.5z"/><path d="M506.27 261.43l1.5 1.5l-1.5 1.5l-1.5 -1.5z"/><path d="M508.37 239.41l1.5 1.5l-1.5 1.5l-1.5 -1.5z"/><path d="M510.48 257.49l1.5 1.5l-1.5 1.5l-1.5 -1.5z"/><path d="M512.58 259.53l1.5 1.5l-1.5 1.5l-1.5 -1.5z"/><path d="M514.68 258.66l1.5 1.5l-1.5 1.5l-1.5 -1.5z"/><path d="M516.78 261.10l1.5 1.5l-1.5 1.5l-1.5 -1.5z"/><path d="M518.88 256.81l1.5 1.5l-1.5 1.5l-1.5 -1.5z"/><path d="M520.98 260.52l1.5 1.5l-1.5 1.5l-1.5 -1.5z"/><path d="M523.08 236.55l1.5 1.5l-1.5 1.5l-1.5 -1.5z"/><path d="M525.18 254.16l1.5 1.5l-1.5 1.5l-1.5 -1.5z"/><path d="M527.29 259.77l1.5 1.5l-1.5 1.5l-1.5 -1.5z"/><path d="M529.39 241.30l1.5 1.5l-1.5 1.5l-1.5 -1.5z"/><path d="M531.49 251.76l1.5 1.5l-1.5 1.5l-1.5 -1.5z"/><path d="M533.59 236.55l1.5 1.5l-1.5 1.5l-1.5 -1.5z"/><path d="M535.69 247.80l1.5 1.5l-1.5 1.5l-1.5 -1.5z"/><path d="M537.79 261.32l1.5 1.5l-1.5 1.5l-1.5 -1.5z"/><path d="M539.89 217.87l1.5 1.5l-1.5 1.5l-1.5 -1.5z"/><path d="M541.99 258.78l1.5 1.5l-1.5 1.5l-1.5 -1.5z"/><path d="M544.10 259.53l1.5 1.5l-1.5 1.5l-1.5 -1.5z"/><path d="M546.20 257.88l1.5 1.5l-1.5 1.5l-1.5 -1.5z"/><path d="M548.30 211.60l1.5 1.5l-1.5 1.5l-1.5 -1.5z"/><path d="M550.40 214.28l1.5 1.5l-1.5 1.5l-1.5 -1.5z"/><path d="M552.50 254.67l1.5 1.5l-1.5 1.5l-1.5 -1.5z"/></g>
</g>
<path d="M31.4 332.40h4.5M552.5 332.40h-4.5M31.4 318.63h4.5M552.5 318.63h-4.5M31.4 304.86h4.5M552.5 304.86h-4.5M31.4 291.09h4.5M552.5 291.09h-4.5M31.4 277.32h4.5M552.5 277.32h-4.5M31.4 263.55h4.5M552.5 263.55h-4.5M31.4 249.78h4.5M552.5 249.78h-4.5M31.4 236.01h4.5M552.5 236.01h-4.5M31.4 222.24h4.5M552.5 222.24h-4.5M31.4 208.47h4.5M552.5 208.47h-4.5M31.4 194.70h4.5M552.5 194.70h-4.5M31.40 332.4v-5M31.40 194.7v5M136.46 332.4v-5M136.46 194.7v5M241.52 332.4v-5M241.52 194.7v5M346.58 332.4v-5M346.58 194.7v5M451.64 332.4v-5M451.64 194.7v5" stroke="#a8a8a8" stroke-width="0.7" fill="none"/>
<rect x="34.4" y="303.3" width="24.2" height="26.1" fill="#fff" stroke="#a8a8a8" stroke-width="0.7"/>
<path d="M36 310.1H47.6" stroke="#9090ff" stroke-width="0.6"/><rect x="40.8" y="309.1" width="2" height="2" fill="#00f"/>
<path d="M36 322.3H47.6" stroke="#f33" stroke-width="0.6"/><path d="M41.8 320.8l1.5 1.5l-1.5 1.5l-1.5-1.5z" fill="#f00"/>
<text x="48.4" y="311.4" font-size="7.9" fill="#000">d</text><text x="53.6" y="314.8" font-size="4.6" fill="#000">k</text>
<text x="48.3" y="323.7" font-size="7.7" fill="#000">S</text><text x="53.8" y="326.9" font-size="4.6" fill="#000">k</text>
<text x="293.5" y="178.6" font-size="11" text-anchor="middle" style="font-family:'Liberation Serif',serif" fill="#000">(a)</text>
<text x="299.3" y="367.2" font-size="11" text-anchor="middle" style="font-family:'Liberation Serif',serif" fill="#000">(b)</text>
<text x="17" y="387.4" font-size="12" style="font-family:'Liberation Serif',serif" fill="#000">Fig. 9. (a) Comparison of real and predicted remaining useful life values with 95% confidence intervals and</text>
<text x="74" y="402.3" font-size="12" style="font-family:'Liberation Serif',serif" fill="#000">(b) prediction errors for each unit using time series chain graph for the fourth dataset</text>
</svg></body></html>
